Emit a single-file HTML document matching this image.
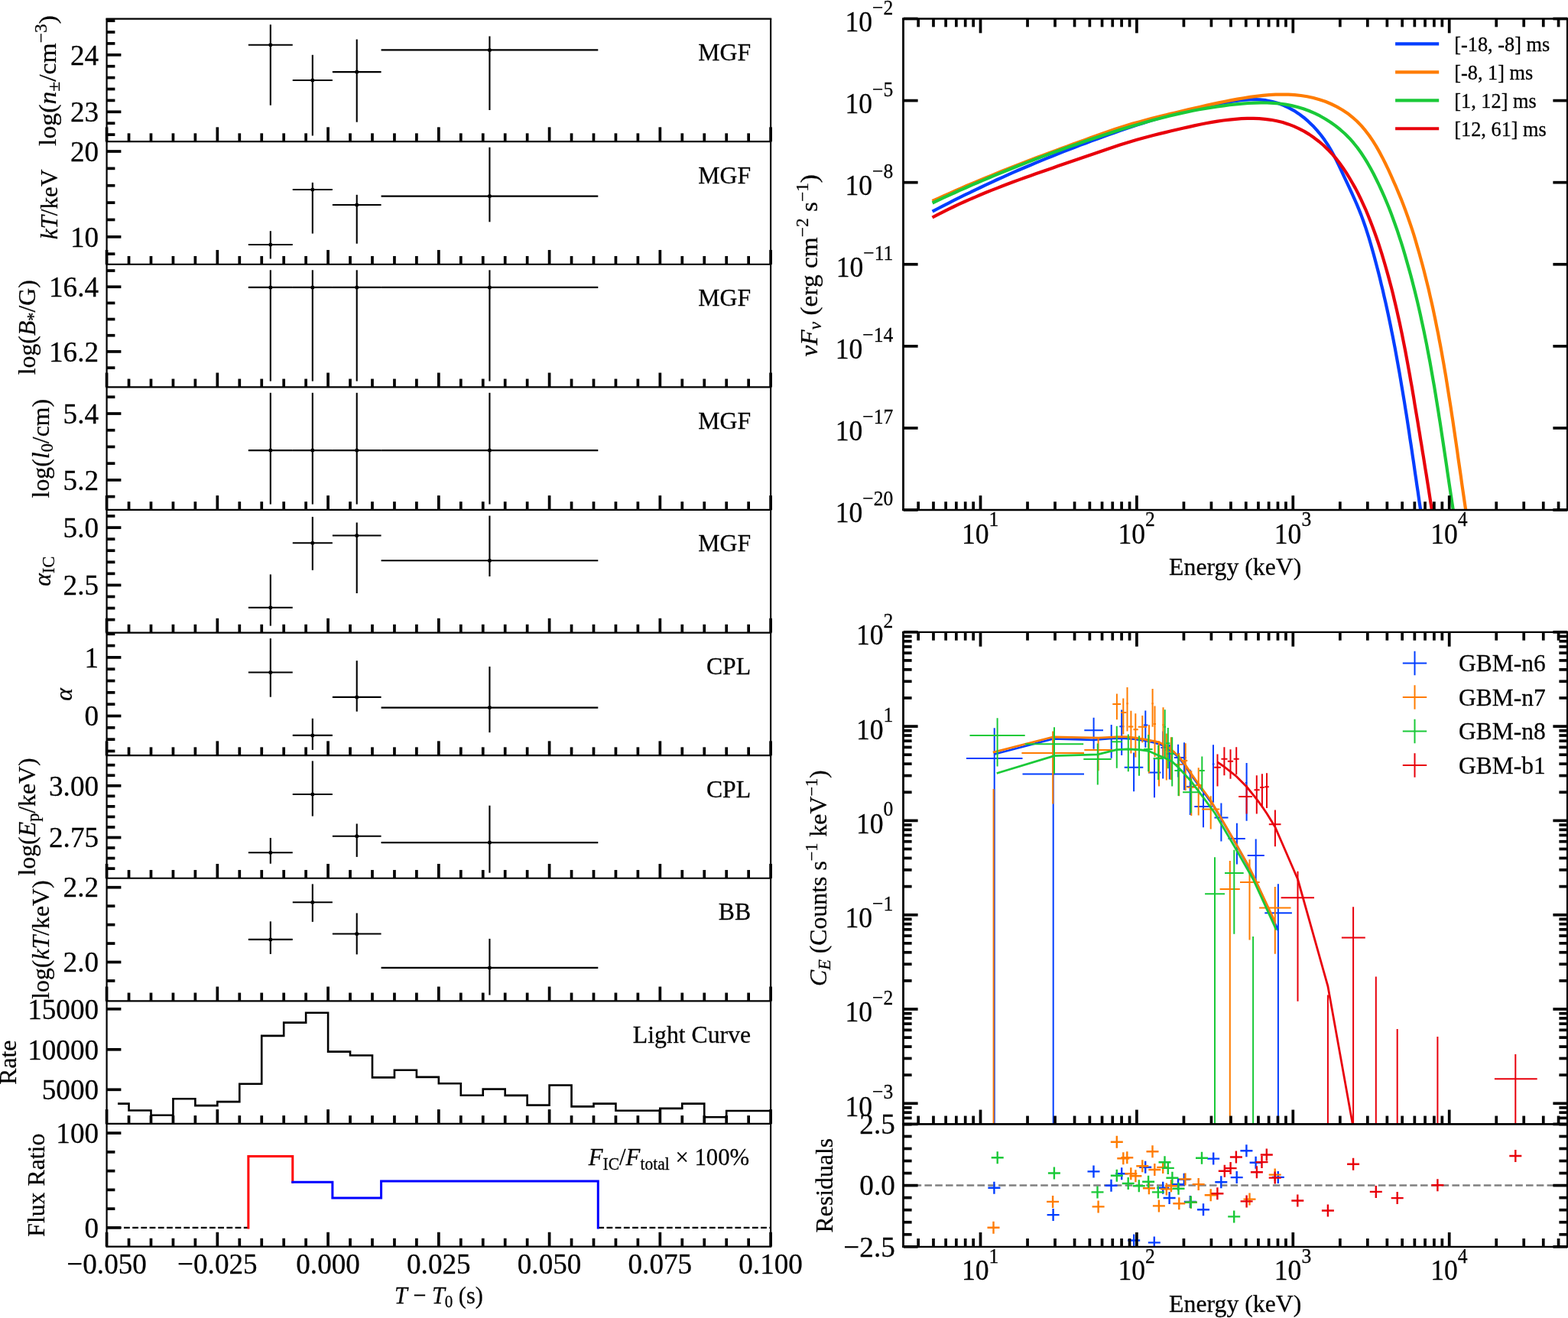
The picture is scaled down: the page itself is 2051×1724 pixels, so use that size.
<!DOCTYPE html>
<html><head><meta charset="utf-8"><title>Figure</title>
<style>html,body{margin:0;padding:0;background:#fff;}svg{display:block;}</style>
</head><body>
<svg width="2051" height="1724" viewBox="0 0 2051 1724" font-family="'Liberation Serif', 'Times New Roman', serif" fill="#000">
<style>text{stroke:#000;stroke-width:0.25px;}</style>
<rect x="0" y="0" width="2051" height="1724" fill="#fff"/>
<line x1="324.88" y1="58.80" x2="382.78" y2="58.80" stroke="#000" stroke-width="2.1" />
<line x1="353.83" y1="32.20" x2="353.83" y2="137.70" stroke="#000" stroke-width="2.1" />
<circle cx="353.83" cy="58.80" r="2.5" fill="#000"/>
<line x1="382.78" y1="105.00" x2="434.89" y2="105.00" stroke="#000" stroke-width="2.1" />
<line x1="408.84" y1="71.80" x2="408.84" y2="177.50" stroke="#000" stroke-width="2.1" />
<circle cx="408.84" cy="105.00" r="2.5" fill="#000"/>
<line x1="434.89" y1="94.10" x2="498.58" y2="94.10" stroke="#000" stroke-width="2.1" />
<line x1="466.74" y1="51.50" x2="466.74" y2="159.70" stroke="#000" stroke-width="2.1" />
<circle cx="466.74" cy="94.10" r="2.5" fill="#000"/>
<line x1="498.58" y1="65.40" x2="782.29" y2="65.40" stroke="#000" stroke-width="2.1" />
<line x1="640.43" y1="47.40" x2="640.43" y2="144.00" stroke="#000" stroke-width="2.1" />
<circle cx="640.43" cy="65.40" r="2.5" fill="#000"/>
<line x1="324.88" y1="320.00" x2="382.78" y2="320.00" stroke="#000" stroke-width="2.1" />
<line x1="353.83" y1="302.20" x2="353.83" y2="338.50" stroke="#000" stroke-width="2.1" />
<circle cx="353.83" cy="320.00" r="2.5" fill="#000"/>
<line x1="382.78" y1="248.00" x2="434.89" y2="248.00" stroke="#000" stroke-width="2.1" />
<line x1="408.84" y1="238.80" x2="408.84" y2="305.50" stroke="#000" stroke-width="2.1" />
<circle cx="408.84" cy="248.00" r="2.5" fill="#000"/>
<line x1="434.89" y1="268.00" x2="498.58" y2="268.00" stroke="#000" stroke-width="2.1" />
<line x1="466.74" y1="254.80" x2="466.74" y2="318.70" stroke="#000" stroke-width="2.1" />
<circle cx="466.74" cy="268.00" r="2.5" fill="#000"/>
<line x1="498.58" y1="256.60" x2="782.29" y2="256.60" stroke="#000" stroke-width="2.1" />
<line x1="640.43" y1="192.70" x2="640.43" y2="290.30" stroke="#000" stroke-width="2.1" />
<circle cx="640.43" cy="256.60" r="2.5" fill="#000"/>
<line x1="324.88" y1="375.90" x2="382.78" y2="375.90" stroke="#000" stroke-width="2.1" />
<line x1="353.83" y1="353.30" x2="353.83" y2="498.60" stroke="#000" stroke-width="2.1" />
<circle cx="353.83" cy="375.90" r="2.5" fill="#000"/>
<line x1="382.78" y1="375.90" x2="434.89" y2="375.90" stroke="#000" stroke-width="2.1" />
<line x1="408.84" y1="353.30" x2="408.84" y2="498.60" stroke="#000" stroke-width="2.1" />
<circle cx="408.84" cy="375.90" r="2.5" fill="#000"/>
<line x1="434.89" y1="375.90" x2="498.58" y2="375.90" stroke="#000" stroke-width="2.1" />
<line x1="466.74" y1="353.30" x2="466.74" y2="498.60" stroke="#000" stroke-width="2.1" />
<circle cx="466.74" cy="375.90" r="2.5" fill="#000"/>
<line x1="498.58" y1="375.90" x2="782.29" y2="375.90" stroke="#000" stroke-width="2.1" />
<line x1="640.43" y1="353.30" x2="640.43" y2="498.60" stroke="#000" stroke-width="2.1" />
<circle cx="640.43" cy="375.90" r="2.5" fill="#000"/>
<line x1="324.88" y1="589.10" x2="382.78" y2="589.10" stroke="#000" stroke-width="2.1" />
<line x1="353.83" y1="513.80" x2="353.83" y2="659.60" stroke="#000" stroke-width="2.1" />
<circle cx="353.83" cy="589.10" r="2.5" fill="#000"/>
<line x1="382.78" y1="589.10" x2="434.89" y2="589.10" stroke="#000" stroke-width="2.1" />
<line x1="408.84" y1="513.80" x2="408.84" y2="659.60" stroke="#000" stroke-width="2.1" />
<circle cx="408.84" cy="589.10" r="2.5" fill="#000"/>
<line x1="434.89" y1="589.10" x2="498.58" y2="589.10" stroke="#000" stroke-width="2.1" />
<line x1="466.74" y1="513.80" x2="466.74" y2="659.60" stroke="#000" stroke-width="2.1" />
<circle cx="466.74" cy="589.10" r="2.5" fill="#000"/>
<line x1="498.58" y1="589.10" x2="782.29" y2="589.10" stroke="#000" stroke-width="2.1" />
<line x1="640.43" y1="513.80" x2="640.43" y2="659.60" stroke="#000" stroke-width="2.1" />
<circle cx="640.43" cy="589.10" r="2.5" fill="#000"/>
<line x1="324.88" y1="794.80" x2="382.78" y2="794.80" stroke="#000" stroke-width="2.1" />
<line x1="353.83" y1="751.40" x2="353.83" y2="818.60" stroke="#000" stroke-width="2.1" />
<circle cx="353.83" cy="794.80" r="2.5" fill="#000"/>
<line x1="382.78" y1="710.30" x2="434.89" y2="710.30" stroke="#000" stroke-width="2.1" />
<line x1="408.84" y1="676.10" x2="408.84" y2="745.80" stroke="#000" stroke-width="2.1" />
<circle cx="408.84" cy="710.30" r="2.5" fill="#000"/>
<line x1="434.89" y1="700.50" x2="498.58" y2="700.50" stroke="#000" stroke-width="2.1" />
<line x1="466.74" y1="683.50" x2="466.74" y2="776.00" stroke="#000" stroke-width="2.1" />
<circle cx="466.74" cy="700.50" r="2.5" fill="#000"/>
<line x1="498.58" y1="733.20" x2="782.29" y2="733.20" stroke="#000" stroke-width="2.1" />
<line x1="640.43" y1="674.60" x2="640.43" y2="754.00" stroke="#000" stroke-width="2.1" />
<circle cx="640.43" cy="733.20" r="2.5" fill="#000"/>
<line x1="324.88" y1="879.50" x2="382.78" y2="879.50" stroke="#000" stroke-width="2.1" />
<line x1="353.83" y1="835.10" x2="353.83" y2="911.70" stroke="#000" stroke-width="2.1" />
<circle cx="353.83" cy="879.50" r="2.5" fill="#000"/>
<line x1="382.78" y1="961.90" x2="434.89" y2="961.90" stroke="#000" stroke-width="2.1" />
<line x1="408.84" y1="939.80" x2="408.84" y2="980.90" stroke="#000" stroke-width="2.1" />
<circle cx="408.84" cy="961.90" r="2.5" fill="#000"/>
<line x1="434.89" y1="911.90" x2="498.58" y2="911.90" stroke="#000" stroke-width="2.1" />
<line x1="466.74" y1="864.20" x2="466.74" y2="930.70" stroke="#000" stroke-width="2.1" />
<circle cx="466.74" cy="911.90" r="2.5" fill="#000"/>
<line x1="498.58" y1="925.60" x2="782.29" y2="925.60" stroke="#000" stroke-width="2.1" />
<line x1="640.43" y1="871.90" x2="640.43" y2="958.10" stroke="#000" stroke-width="2.1" />
<circle cx="640.43" cy="925.60" r="2.5" fill="#000"/>
<line x1="324.88" y1="1115.30" x2="382.78" y2="1115.30" stroke="#000" stroke-width="2.1" />
<line x1="353.83" y1="1096.00" x2="353.83" y2="1129.70" stroke="#000" stroke-width="2.1" />
<circle cx="353.83" cy="1115.30" r="2.5" fill="#000"/>
<line x1="382.78" y1="1039.00" x2="434.89" y2="1039.00" stroke="#000" stroke-width="2.1" />
<line x1="408.84" y1="995.40" x2="408.84" y2="1067.60" stroke="#000" stroke-width="2.1" />
<circle cx="408.84" cy="1039.00" r="2.5" fill="#000"/>
<line x1="434.89" y1="1093.70" x2="498.58" y2="1093.70" stroke="#000" stroke-width="2.1" />
<line x1="466.74" y1="1077.50" x2="466.74" y2="1120.90" stroke="#000" stroke-width="2.1" />
<circle cx="466.74" cy="1093.70" r="2.5" fill="#000"/>
<line x1="498.58" y1="1102.10" x2="782.29" y2="1102.10" stroke="#000" stroke-width="2.1" />
<line x1="640.43" y1="1053.70" x2="640.43" y2="1141.70" stroke="#000" stroke-width="2.1" />
<circle cx="640.43" cy="1102.10" r="2.5" fill="#000"/>
<line x1="324.88" y1="1228.90" x2="382.78" y2="1228.90" stroke="#000" stroke-width="2.1" />
<line x1="353.83" y1="1205.30" x2="353.83" y2="1247.90" stroke="#000" stroke-width="2.1" />
<circle cx="353.83" cy="1228.90" r="2.5" fill="#000"/>
<line x1="382.78" y1="1180.20" x2="434.89" y2="1180.20" stroke="#000" stroke-width="2.1" />
<line x1="408.84" y1="1156.40" x2="408.84" y2="1205.80" stroke="#000" stroke-width="2.1" />
<circle cx="408.84" cy="1180.20" r="2.5" fill="#000"/>
<line x1="434.89" y1="1221.50" x2="498.58" y2="1221.50" stroke="#000" stroke-width="2.1" />
<line x1="466.74" y1="1194.40" x2="466.74" y2="1248.40" stroke="#000" stroke-width="2.1" />
<circle cx="466.74" cy="1221.50" r="2.5" fill="#000"/>
<line x1="498.58" y1="1265.90" x2="782.29" y2="1265.90" stroke="#000" stroke-width="2.1" />
<line x1="640.43" y1="1227.90" x2="640.43" y2="1301.60" stroke="#000" stroke-width="2.1" />
<circle cx="640.43" cy="1265.90" r="2.5" fill="#000"/>
<path d="M154.08 1443.60 H168.55 V1452.50 H197.50 V1458.80 H226.45 V1437.30 H255.40 V1446.10 H284.35 V1441.10 H313.30 V1417.70 H342.25 V1354.90 H371.20 V1337.60 H400.15 V1324.70 H429.10 V1375.60 H458.05 V1380.50 H487.00 V1409.40 H515.95 V1399.70 H544.90 V1408.90 H573.85 V1417.20 H602.80 V1432.70 H631.75 V1424.60 H660.70 V1432.90 H689.65 V1445.60 H718.60 V1419.50 H747.55 V1447.40 H776.50 V1443.60 H805.45 V1452.70 H834.40 V1452.70 H863.35 V1449.90 H892.30 V1443.60 H921.25 V1461.30 H950.20 V1453.00 H979.15 V1453.00 H1008.10" fill="none" stroke="#000" stroke-width="2.6" stroke-linejoin="miter"/>
<line x1="139.60" y1="1605.90" x2="324.88" y2="1605.90" stroke="#000" stroke-width="2.1" stroke-dasharray="7.8 3.4"/>
<line x1="782.29" y1="1605.90" x2="1008.10" y2="1605.90" stroke="#000" stroke-width="2.1" stroke-dasharray="7.8 3.4"/>
<path d="M324.88 1605.9 V1512.6 H382.78 V1546.3" fill="none" stroke="#ff0000" stroke-width="3.0" stroke-linecap="square"/>
<path d="M382.78 1546.3 H434.89 V1567.1 H498.58 V1545.0 H782.29 V1605.9" fill="none" stroke="#0000ff" stroke-width="3.0" stroke-linecap="square"/>
<line x1="139.60" y1="185.15" x2="139.60" y2="166.35" stroke="#000" stroke-width="3.7" />
<line x1="168.55" y1="185.15" x2="168.55" y2="174.35" stroke="#000" stroke-width="3.7" />
<line x1="197.50" y1="185.15" x2="197.50" y2="174.35" stroke="#000" stroke-width="3.7" />
<line x1="226.45" y1="185.15" x2="226.45" y2="174.35" stroke="#000" stroke-width="3.7" />
<line x1="255.40" y1="185.15" x2="255.40" y2="174.35" stroke="#000" stroke-width="3.7" />
<line x1="284.35" y1="185.15" x2="284.35" y2="166.35" stroke="#000" stroke-width="3.7" />
<line x1="313.30" y1="185.15" x2="313.30" y2="174.35" stroke="#000" stroke-width="3.7" />
<line x1="342.25" y1="185.15" x2="342.25" y2="174.35" stroke="#000" stroke-width="3.7" />
<line x1="371.20" y1="185.15" x2="371.20" y2="174.35" stroke="#000" stroke-width="3.7" />
<line x1="400.15" y1="185.15" x2="400.15" y2="174.35" stroke="#000" stroke-width="3.7" />
<line x1="429.10" y1="185.15" x2="429.10" y2="166.35" stroke="#000" stroke-width="3.7" />
<line x1="458.05" y1="185.15" x2="458.05" y2="174.35" stroke="#000" stroke-width="3.7" />
<line x1="487.00" y1="185.15" x2="487.00" y2="174.35" stroke="#000" stroke-width="3.7" />
<line x1="515.95" y1="185.15" x2="515.95" y2="174.35" stroke="#000" stroke-width="3.7" />
<line x1="544.90" y1="185.15" x2="544.90" y2="174.35" stroke="#000" stroke-width="3.7" />
<line x1="573.85" y1="185.15" x2="573.85" y2="166.35" stroke="#000" stroke-width="3.7" />
<line x1="602.80" y1="185.15" x2="602.80" y2="174.35" stroke="#000" stroke-width="3.7" />
<line x1="631.75" y1="185.15" x2="631.75" y2="174.35" stroke="#000" stroke-width="3.7" />
<line x1="660.70" y1="185.15" x2="660.70" y2="174.35" stroke="#000" stroke-width="3.7" />
<line x1="689.65" y1="185.15" x2="689.65" y2="174.35" stroke="#000" stroke-width="3.7" />
<line x1="718.60" y1="185.15" x2="718.60" y2="166.35" stroke="#000" stroke-width="3.7" />
<line x1="747.55" y1="185.15" x2="747.55" y2="174.35" stroke="#000" stroke-width="3.7" />
<line x1="776.50" y1="185.15" x2="776.50" y2="174.35" stroke="#000" stroke-width="3.7" />
<line x1="805.45" y1="185.15" x2="805.45" y2="174.35" stroke="#000" stroke-width="3.7" />
<line x1="834.40" y1="185.15" x2="834.40" y2="174.35" stroke="#000" stroke-width="3.7" />
<line x1="863.35" y1="185.15" x2="863.35" y2="166.35" stroke="#000" stroke-width="3.7" />
<line x1="892.30" y1="185.15" x2="892.30" y2="174.35" stroke="#000" stroke-width="3.7" />
<line x1="921.25" y1="185.15" x2="921.25" y2="174.35" stroke="#000" stroke-width="3.7" />
<line x1="950.20" y1="185.15" x2="950.20" y2="174.35" stroke="#000" stroke-width="3.7" />
<line x1="979.15" y1="185.15" x2="979.15" y2="174.35" stroke="#000" stroke-width="3.7" />
<line x1="1008.10" y1="185.15" x2="1008.10" y2="166.35" stroke="#000" stroke-width="3.7" />
<line x1="139.60" y1="71.80" x2="158.40" y2="71.80" stroke="#000" stroke-width="3.7" />
<text transform="translate(129.10 84.50) scale(1 1.035)" font-size="37.2" text-anchor="end" >24</text>
<line x1="139.60" y1="146.30" x2="158.40" y2="146.30" stroke="#000" stroke-width="3.7" />
<text transform="translate(129.10 159.00) scale(1 1.035)" font-size="37.2" text-anchor="end" >23</text>
<line x1="139.60" y1="27.10" x2="150.40" y2="27.10" stroke="#000" stroke-width="3.7" />
<line x1="139.60" y1="42.00" x2="150.40" y2="42.00" stroke="#000" stroke-width="3.7" />
<line x1="139.60" y1="56.90" x2="150.40" y2="56.90" stroke="#000" stroke-width="3.7" />
<line x1="139.60" y1="86.70" x2="150.40" y2="86.70" stroke="#000" stroke-width="3.7" />
<line x1="139.60" y1="101.60" x2="150.40" y2="101.60" stroke="#000" stroke-width="3.7" />
<line x1="139.60" y1="116.50" x2="150.40" y2="116.50" stroke="#000" stroke-width="3.7" />
<line x1="139.60" y1="131.40" x2="150.40" y2="131.40" stroke="#000" stroke-width="3.7" />
<line x1="139.60" y1="161.20" x2="150.40" y2="161.20" stroke="#000" stroke-width="3.7" />
<line x1="139.60" y1="176.10" x2="150.40" y2="176.10" stroke="#000" stroke-width="3.7" />
<text transform="translate(72.60 105.45) rotate(-90) scale(1.06 1.0)" font-size="31.8" text-anchor="middle">log(<tspan font-style="italic">n</tspan><tspan font-size="22.26" dy="5.09">±</tspan><tspan font-size="22.26" dy="-5.09">&#8203;</tspan>/cm<tspan font-size="22.26" dy="-12.08">−3</tspan><tspan font-size="22.26" dy="12.08">&#8203;</tspan>)</text>
<text transform="translate(982.20 79.05) scale(1 1.015)" font-size="31.8" text-anchor="end" >MGF</text>
<line x1="139.60" y1="345.75" x2="139.60" y2="326.95" stroke="#000" stroke-width="3.7" />
<line x1="168.55" y1="345.75" x2="168.55" y2="334.95" stroke="#000" stroke-width="3.7" />
<line x1="197.50" y1="345.75" x2="197.50" y2="334.95" stroke="#000" stroke-width="3.7" />
<line x1="226.45" y1="345.75" x2="226.45" y2="334.95" stroke="#000" stroke-width="3.7" />
<line x1="255.40" y1="345.75" x2="255.40" y2="334.95" stroke="#000" stroke-width="3.7" />
<line x1="284.35" y1="345.75" x2="284.35" y2="326.95" stroke="#000" stroke-width="3.7" />
<line x1="313.30" y1="345.75" x2="313.30" y2="334.95" stroke="#000" stroke-width="3.7" />
<line x1="342.25" y1="345.75" x2="342.25" y2="334.95" stroke="#000" stroke-width="3.7" />
<line x1="371.20" y1="345.75" x2="371.20" y2="334.95" stroke="#000" stroke-width="3.7" />
<line x1="400.15" y1="345.75" x2="400.15" y2="334.95" stroke="#000" stroke-width="3.7" />
<line x1="429.10" y1="345.75" x2="429.10" y2="326.95" stroke="#000" stroke-width="3.7" />
<line x1="458.05" y1="345.75" x2="458.05" y2="334.95" stroke="#000" stroke-width="3.7" />
<line x1="487.00" y1="345.75" x2="487.00" y2="334.95" stroke="#000" stroke-width="3.7" />
<line x1="515.95" y1="345.75" x2="515.95" y2="334.95" stroke="#000" stroke-width="3.7" />
<line x1="544.90" y1="345.75" x2="544.90" y2="334.95" stroke="#000" stroke-width="3.7" />
<line x1="573.85" y1="345.75" x2="573.85" y2="326.95" stroke="#000" stroke-width="3.7" />
<line x1="602.80" y1="345.75" x2="602.80" y2="334.95" stroke="#000" stroke-width="3.7" />
<line x1="631.75" y1="345.75" x2="631.75" y2="334.95" stroke="#000" stroke-width="3.7" />
<line x1="660.70" y1="345.75" x2="660.70" y2="334.95" stroke="#000" stroke-width="3.7" />
<line x1="689.65" y1="345.75" x2="689.65" y2="334.95" stroke="#000" stroke-width="3.7" />
<line x1="718.60" y1="345.75" x2="718.60" y2="326.95" stroke="#000" stroke-width="3.7" />
<line x1="747.55" y1="345.75" x2="747.55" y2="334.95" stroke="#000" stroke-width="3.7" />
<line x1="776.50" y1="345.75" x2="776.50" y2="334.95" stroke="#000" stroke-width="3.7" />
<line x1="805.45" y1="345.75" x2="805.45" y2="334.95" stroke="#000" stroke-width="3.7" />
<line x1="834.40" y1="345.75" x2="834.40" y2="334.95" stroke="#000" stroke-width="3.7" />
<line x1="863.35" y1="345.75" x2="863.35" y2="326.95" stroke="#000" stroke-width="3.7" />
<line x1="892.30" y1="345.75" x2="892.30" y2="334.95" stroke="#000" stroke-width="3.7" />
<line x1="921.25" y1="345.75" x2="921.25" y2="334.95" stroke="#000" stroke-width="3.7" />
<line x1="950.20" y1="345.75" x2="950.20" y2="334.95" stroke="#000" stroke-width="3.7" />
<line x1="979.15" y1="345.75" x2="979.15" y2="334.95" stroke="#000" stroke-width="3.7" />
<line x1="1008.10" y1="345.75" x2="1008.10" y2="326.95" stroke="#000" stroke-width="3.7" />
<line x1="139.60" y1="198.00" x2="158.40" y2="198.00" stroke="#000" stroke-width="3.7" />
<text transform="translate(129.10 210.70) scale(1 1.035)" font-size="37.2" text-anchor="end" >20</text>
<line x1="139.60" y1="309.80" x2="158.40" y2="309.80" stroke="#000" stroke-width="3.7" />
<text transform="translate(129.10 322.50) scale(1 1.035)" font-size="37.2" text-anchor="end" >10</text>
<line x1="139.60" y1="220.36" x2="150.40" y2="220.36" stroke="#000" stroke-width="3.7" />
<line x1="139.60" y1="242.72" x2="150.40" y2="242.72" stroke="#000" stroke-width="3.7" />
<line x1="139.60" y1="265.08" x2="150.40" y2="265.08" stroke="#000" stroke-width="3.7" />
<line x1="139.60" y1="287.44" x2="150.40" y2="287.44" stroke="#000" stroke-width="3.7" />
<line x1="139.60" y1="332.16" x2="150.40" y2="332.16" stroke="#000" stroke-width="3.7" />
<text transform="translate(74.60 267.45) rotate(-90) scale(0.98 1.0)" font-size="31.8" text-anchor="middle"><tspan font-style="italic">kT</tspan>/keV</text>
<text transform="translate(982.20 239.65) scale(1 1.015)" font-size="31.8" text-anchor="end" >MGF</text>
<line x1="139.60" y1="506.35" x2="139.60" y2="487.55" stroke="#000" stroke-width="3.7" />
<line x1="168.55" y1="506.35" x2="168.55" y2="495.55" stroke="#000" stroke-width="3.7" />
<line x1="197.50" y1="506.35" x2="197.50" y2="495.55" stroke="#000" stroke-width="3.7" />
<line x1="226.45" y1="506.35" x2="226.45" y2="495.55" stroke="#000" stroke-width="3.7" />
<line x1="255.40" y1="506.35" x2="255.40" y2="495.55" stroke="#000" stroke-width="3.7" />
<line x1="284.35" y1="506.35" x2="284.35" y2="487.55" stroke="#000" stroke-width="3.7" />
<line x1="313.30" y1="506.35" x2="313.30" y2="495.55" stroke="#000" stroke-width="3.7" />
<line x1="342.25" y1="506.35" x2="342.25" y2="495.55" stroke="#000" stroke-width="3.7" />
<line x1="371.20" y1="506.35" x2="371.20" y2="495.55" stroke="#000" stroke-width="3.7" />
<line x1="400.15" y1="506.35" x2="400.15" y2="495.55" stroke="#000" stroke-width="3.7" />
<line x1="429.10" y1="506.35" x2="429.10" y2="487.55" stroke="#000" stroke-width="3.7" />
<line x1="458.05" y1="506.35" x2="458.05" y2="495.55" stroke="#000" stroke-width="3.7" />
<line x1="487.00" y1="506.35" x2="487.00" y2="495.55" stroke="#000" stroke-width="3.7" />
<line x1="515.95" y1="506.35" x2="515.95" y2="495.55" stroke="#000" stroke-width="3.7" />
<line x1="544.90" y1="506.35" x2="544.90" y2="495.55" stroke="#000" stroke-width="3.7" />
<line x1="573.85" y1="506.35" x2="573.85" y2="487.55" stroke="#000" stroke-width="3.7" />
<line x1="602.80" y1="506.35" x2="602.80" y2="495.55" stroke="#000" stroke-width="3.7" />
<line x1="631.75" y1="506.35" x2="631.75" y2="495.55" stroke="#000" stroke-width="3.7" />
<line x1="660.70" y1="506.35" x2="660.70" y2="495.55" stroke="#000" stroke-width="3.7" />
<line x1="689.65" y1="506.35" x2="689.65" y2="495.55" stroke="#000" stroke-width="3.7" />
<line x1="718.60" y1="506.35" x2="718.60" y2="487.55" stroke="#000" stroke-width="3.7" />
<line x1="747.55" y1="506.35" x2="747.55" y2="495.55" stroke="#000" stroke-width="3.7" />
<line x1="776.50" y1="506.35" x2="776.50" y2="495.55" stroke="#000" stroke-width="3.7" />
<line x1="805.45" y1="506.35" x2="805.45" y2="495.55" stroke="#000" stroke-width="3.7" />
<line x1="834.40" y1="506.35" x2="834.40" y2="495.55" stroke="#000" stroke-width="3.7" />
<line x1="863.35" y1="506.35" x2="863.35" y2="487.55" stroke="#000" stroke-width="3.7" />
<line x1="892.30" y1="506.35" x2="892.30" y2="495.55" stroke="#000" stroke-width="3.7" />
<line x1="921.25" y1="506.35" x2="921.25" y2="495.55" stroke="#000" stroke-width="3.7" />
<line x1="950.20" y1="506.35" x2="950.20" y2="495.55" stroke="#000" stroke-width="3.7" />
<line x1="979.15" y1="506.35" x2="979.15" y2="495.55" stroke="#000" stroke-width="3.7" />
<line x1="1008.10" y1="506.35" x2="1008.10" y2="487.55" stroke="#000" stroke-width="3.7" />
<line x1="139.60" y1="375.20" x2="158.40" y2="375.20" stroke="#000" stroke-width="3.7" />
<text transform="translate(129.10 387.90) scale(1 1.035)" font-size="37.2" text-anchor="end" >16.4</text>
<line x1="139.60" y1="459.90" x2="158.40" y2="459.90" stroke="#000" stroke-width="3.7" />
<text transform="translate(129.10 472.60) scale(1 1.035)" font-size="37.2" text-anchor="end" >16.2</text>
<line x1="139.60" y1="354.02" x2="150.40" y2="354.02" stroke="#000" stroke-width="3.7" />
<line x1="139.60" y1="396.38" x2="150.40" y2="396.38" stroke="#000" stroke-width="3.7" />
<line x1="139.60" y1="417.56" x2="150.40" y2="417.56" stroke="#000" stroke-width="3.7" />
<line x1="139.60" y1="438.74" x2="150.40" y2="438.74" stroke="#000" stroke-width="3.7" />
<line x1="139.60" y1="481.10" x2="150.40" y2="481.10" stroke="#000" stroke-width="3.7" />
<text transform="translate(45.50 428.25) rotate(-90) scale(1 1.0)" font-size="31.8" text-anchor="middle">log(<tspan font-style="italic">B</tspan><tspan font-size="22.26" dy="5.09">*</tspan><tspan font-size="22.26" dy="-5.09">&#8203;</tspan>/G)</text>
<text transform="translate(982.20 400.25) scale(1 1.015)" font-size="31.8" text-anchor="end" >MGF</text>
<line x1="139.60" y1="666.95" x2="139.60" y2="648.15" stroke="#000" stroke-width="3.7" />
<line x1="168.55" y1="666.95" x2="168.55" y2="656.15" stroke="#000" stroke-width="3.7" />
<line x1="197.50" y1="666.95" x2="197.50" y2="656.15" stroke="#000" stroke-width="3.7" />
<line x1="226.45" y1="666.95" x2="226.45" y2="656.15" stroke="#000" stroke-width="3.7" />
<line x1="255.40" y1="666.95" x2="255.40" y2="656.15" stroke="#000" stroke-width="3.7" />
<line x1="284.35" y1="666.95" x2="284.35" y2="648.15" stroke="#000" stroke-width="3.7" />
<line x1="313.30" y1="666.95" x2="313.30" y2="656.15" stroke="#000" stroke-width="3.7" />
<line x1="342.25" y1="666.95" x2="342.25" y2="656.15" stroke="#000" stroke-width="3.7" />
<line x1="371.20" y1="666.95" x2="371.20" y2="656.15" stroke="#000" stroke-width="3.7" />
<line x1="400.15" y1="666.95" x2="400.15" y2="656.15" stroke="#000" stroke-width="3.7" />
<line x1="429.10" y1="666.95" x2="429.10" y2="648.15" stroke="#000" stroke-width="3.7" />
<line x1="458.05" y1="666.95" x2="458.05" y2="656.15" stroke="#000" stroke-width="3.7" />
<line x1="487.00" y1="666.95" x2="487.00" y2="656.15" stroke="#000" stroke-width="3.7" />
<line x1="515.95" y1="666.95" x2="515.95" y2="656.15" stroke="#000" stroke-width="3.7" />
<line x1="544.90" y1="666.95" x2="544.90" y2="656.15" stroke="#000" stroke-width="3.7" />
<line x1="573.85" y1="666.95" x2="573.85" y2="648.15" stroke="#000" stroke-width="3.7" />
<line x1="602.80" y1="666.95" x2="602.80" y2="656.15" stroke="#000" stroke-width="3.7" />
<line x1="631.75" y1="666.95" x2="631.75" y2="656.15" stroke="#000" stroke-width="3.7" />
<line x1="660.70" y1="666.95" x2="660.70" y2="656.15" stroke="#000" stroke-width="3.7" />
<line x1="689.65" y1="666.95" x2="689.65" y2="656.15" stroke="#000" stroke-width="3.7" />
<line x1="718.60" y1="666.95" x2="718.60" y2="648.15" stroke="#000" stroke-width="3.7" />
<line x1="747.55" y1="666.95" x2="747.55" y2="656.15" stroke="#000" stroke-width="3.7" />
<line x1="776.50" y1="666.95" x2="776.50" y2="656.15" stroke="#000" stroke-width="3.7" />
<line x1="805.45" y1="666.95" x2="805.45" y2="656.15" stroke="#000" stroke-width="3.7" />
<line x1="834.40" y1="666.95" x2="834.40" y2="656.15" stroke="#000" stroke-width="3.7" />
<line x1="863.35" y1="666.95" x2="863.35" y2="648.15" stroke="#000" stroke-width="3.7" />
<line x1="892.30" y1="666.95" x2="892.30" y2="656.15" stroke="#000" stroke-width="3.7" />
<line x1="921.25" y1="666.95" x2="921.25" y2="656.15" stroke="#000" stroke-width="3.7" />
<line x1="950.20" y1="666.95" x2="950.20" y2="656.15" stroke="#000" stroke-width="3.7" />
<line x1="979.15" y1="666.95" x2="979.15" y2="656.15" stroke="#000" stroke-width="3.7" />
<line x1="1008.10" y1="666.95" x2="1008.10" y2="648.15" stroke="#000" stroke-width="3.7" />
<line x1="139.60" y1="541.00" x2="158.40" y2="541.00" stroke="#000" stroke-width="3.7" />
<text transform="translate(129.10 553.70) scale(1 1.035)" font-size="37.2" text-anchor="end" >5.4</text>
<line x1="139.60" y1="627.90" x2="158.40" y2="627.90" stroke="#000" stroke-width="3.7" />
<text transform="translate(129.10 640.60) scale(1 1.035)" font-size="37.2" text-anchor="end" >5.2</text>
<line x1="139.60" y1="519.28" x2="150.40" y2="519.28" stroke="#000" stroke-width="3.7" />
<line x1="139.60" y1="562.72" x2="150.40" y2="562.72" stroke="#000" stroke-width="3.7" />
<line x1="139.60" y1="584.44" x2="150.40" y2="584.44" stroke="#000" stroke-width="3.7" />
<line x1="139.60" y1="606.16" x2="150.40" y2="606.16" stroke="#000" stroke-width="3.7" />
<line x1="139.60" y1="649.60" x2="150.40" y2="649.60" stroke="#000" stroke-width="3.7" />
<text transform="translate(63.50 586.65) rotate(-90) scale(1 1.0)" font-size="31.8" text-anchor="middle">log(<tspan font-style="italic">l</tspan><tspan font-size="22.26" dy="5.09">0</tspan><tspan font-size="22.26" dy="-5.09">&#8203;</tspan>/cm)</text>
<text transform="translate(982.20 560.85) scale(1 1.015)" font-size="31.8" text-anchor="end" >MGF</text>
<line x1="139.60" y1="827.55" x2="139.60" y2="808.75" stroke="#000" stroke-width="3.7" />
<line x1="168.55" y1="827.55" x2="168.55" y2="816.75" stroke="#000" stroke-width="3.7" />
<line x1="197.50" y1="827.55" x2="197.50" y2="816.75" stroke="#000" stroke-width="3.7" />
<line x1="226.45" y1="827.55" x2="226.45" y2="816.75" stroke="#000" stroke-width="3.7" />
<line x1="255.40" y1="827.55" x2="255.40" y2="816.75" stroke="#000" stroke-width="3.7" />
<line x1="284.35" y1="827.55" x2="284.35" y2="808.75" stroke="#000" stroke-width="3.7" />
<line x1="313.30" y1="827.55" x2="313.30" y2="816.75" stroke="#000" stroke-width="3.7" />
<line x1="342.25" y1="827.55" x2="342.25" y2="816.75" stroke="#000" stroke-width="3.7" />
<line x1="371.20" y1="827.55" x2="371.20" y2="816.75" stroke="#000" stroke-width="3.7" />
<line x1="400.15" y1="827.55" x2="400.15" y2="816.75" stroke="#000" stroke-width="3.7" />
<line x1="429.10" y1="827.55" x2="429.10" y2="808.75" stroke="#000" stroke-width="3.7" />
<line x1="458.05" y1="827.55" x2="458.05" y2="816.75" stroke="#000" stroke-width="3.7" />
<line x1="487.00" y1="827.55" x2="487.00" y2="816.75" stroke="#000" stroke-width="3.7" />
<line x1="515.95" y1="827.55" x2="515.95" y2="816.75" stroke="#000" stroke-width="3.7" />
<line x1="544.90" y1="827.55" x2="544.90" y2="816.75" stroke="#000" stroke-width="3.7" />
<line x1="573.85" y1="827.55" x2="573.85" y2="808.75" stroke="#000" stroke-width="3.7" />
<line x1="602.80" y1="827.55" x2="602.80" y2="816.75" stroke="#000" stroke-width="3.7" />
<line x1="631.75" y1="827.55" x2="631.75" y2="816.75" stroke="#000" stroke-width="3.7" />
<line x1="660.70" y1="827.55" x2="660.70" y2="816.75" stroke="#000" stroke-width="3.7" />
<line x1="689.65" y1="827.55" x2="689.65" y2="816.75" stroke="#000" stroke-width="3.7" />
<line x1="718.60" y1="827.55" x2="718.60" y2="808.75" stroke="#000" stroke-width="3.7" />
<line x1="747.55" y1="827.55" x2="747.55" y2="816.75" stroke="#000" stroke-width="3.7" />
<line x1="776.50" y1="827.55" x2="776.50" y2="816.75" stroke="#000" stroke-width="3.7" />
<line x1="805.45" y1="827.55" x2="805.45" y2="816.75" stroke="#000" stroke-width="3.7" />
<line x1="834.40" y1="827.55" x2="834.40" y2="816.75" stroke="#000" stroke-width="3.7" />
<line x1="863.35" y1="827.55" x2="863.35" y2="808.75" stroke="#000" stroke-width="3.7" />
<line x1="892.30" y1="827.55" x2="892.30" y2="816.75" stroke="#000" stroke-width="3.7" />
<line x1="921.25" y1="827.55" x2="921.25" y2="816.75" stroke="#000" stroke-width="3.7" />
<line x1="950.20" y1="827.55" x2="950.20" y2="816.75" stroke="#000" stroke-width="3.7" />
<line x1="979.15" y1="827.55" x2="979.15" y2="816.75" stroke="#000" stroke-width="3.7" />
<line x1="1008.10" y1="827.55" x2="1008.10" y2="808.75" stroke="#000" stroke-width="3.7" />
<line x1="139.60" y1="690.10" x2="158.40" y2="690.10" stroke="#000" stroke-width="3.7" />
<text transform="translate(129.10 702.80) scale(1 1.035)" font-size="37.2" text-anchor="end" >5.0</text>
<line x1="139.60" y1="765.40" x2="158.40" y2="765.40" stroke="#000" stroke-width="3.7" />
<text transform="translate(129.10 778.10) scale(1 1.035)" font-size="37.2" text-anchor="end" >2.5</text>
<line x1="139.60" y1="675.04" x2="150.40" y2="675.04" stroke="#000" stroke-width="3.7" />
<line x1="139.60" y1="705.16" x2="150.40" y2="705.16" stroke="#000" stroke-width="3.7" />
<line x1="139.60" y1="720.22" x2="150.40" y2="720.22" stroke="#000" stroke-width="3.7" />
<line x1="139.60" y1="735.28" x2="150.40" y2="735.28" stroke="#000" stroke-width="3.7" />
<line x1="139.60" y1="750.34" x2="150.40" y2="750.34" stroke="#000" stroke-width="3.7" />
<line x1="139.60" y1="780.46" x2="150.40" y2="780.46" stroke="#000" stroke-width="3.7" />
<line x1="139.60" y1="795.52" x2="150.40" y2="795.52" stroke="#000" stroke-width="3.7" />
<line x1="139.60" y1="810.58" x2="150.40" y2="810.58" stroke="#000" stroke-width="3.7" />
<text transform="translate(66.00 747.25) rotate(-90) scale(1 1.0)" font-size="31.8" text-anchor="middle"><tspan font-style="italic">α</tspan><tspan font-size="22.26" dy="5.09">IC</tspan><tspan font-size="22.26" dy="-5.09">&#8203;</tspan></text>
<text transform="translate(982.20 721.45) scale(1 1.015)" font-size="31.8" text-anchor="end" >MGF</text>
<line x1="139.60" y1="988.15" x2="139.60" y2="969.35" stroke="#000" stroke-width="3.7" />
<line x1="168.55" y1="988.15" x2="168.55" y2="977.35" stroke="#000" stroke-width="3.7" />
<line x1="197.50" y1="988.15" x2="197.50" y2="977.35" stroke="#000" stroke-width="3.7" />
<line x1="226.45" y1="988.15" x2="226.45" y2="977.35" stroke="#000" stroke-width="3.7" />
<line x1="255.40" y1="988.15" x2="255.40" y2="977.35" stroke="#000" stroke-width="3.7" />
<line x1="284.35" y1="988.15" x2="284.35" y2="969.35" stroke="#000" stroke-width="3.7" />
<line x1="313.30" y1="988.15" x2="313.30" y2="977.35" stroke="#000" stroke-width="3.7" />
<line x1="342.25" y1="988.15" x2="342.25" y2="977.35" stroke="#000" stroke-width="3.7" />
<line x1="371.20" y1="988.15" x2="371.20" y2="977.35" stroke="#000" stroke-width="3.7" />
<line x1="400.15" y1="988.15" x2="400.15" y2="977.35" stroke="#000" stroke-width="3.7" />
<line x1="429.10" y1="988.15" x2="429.10" y2="969.35" stroke="#000" stroke-width="3.7" />
<line x1="458.05" y1="988.15" x2="458.05" y2="977.35" stroke="#000" stroke-width="3.7" />
<line x1="487.00" y1="988.15" x2="487.00" y2="977.35" stroke="#000" stroke-width="3.7" />
<line x1="515.95" y1="988.15" x2="515.95" y2="977.35" stroke="#000" stroke-width="3.7" />
<line x1="544.90" y1="988.15" x2="544.90" y2="977.35" stroke="#000" stroke-width="3.7" />
<line x1="573.85" y1="988.15" x2="573.85" y2="969.35" stroke="#000" stroke-width="3.7" />
<line x1="602.80" y1="988.15" x2="602.80" y2="977.35" stroke="#000" stroke-width="3.7" />
<line x1="631.75" y1="988.15" x2="631.75" y2="977.35" stroke="#000" stroke-width="3.7" />
<line x1="660.70" y1="988.15" x2="660.70" y2="977.35" stroke="#000" stroke-width="3.7" />
<line x1="689.65" y1="988.15" x2="689.65" y2="977.35" stroke="#000" stroke-width="3.7" />
<line x1="718.60" y1="988.15" x2="718.60" y2="969.35" stroke="#000" stroke-width="3.7" />
<line x1="747.55" y1="988.15" x2="747.55" y2="977.35" stroke="#000" stroke-width="3.7" />
<line x1="776.50" y1="988.15" x2="776.50" y2="977.35" stroke="#000" stroke-width="3.7" />
<line x1="805.45" y1="988.15" x2="805.45" y2="977.35" stroke="#000" stroke-width="3.7" />
<line x1="834.40" y1="988.15" x2="834.40" y2="977.35" stroke="#000" stroke-width="3.7" />
<line x1="863.35" y1="988.15" x2="863.35" y2="969.35" stroke="#000" stroke-width="3.7" />
<line x1="892.30" y1="988.15" x2="892.30" y2="977.35" stroke="#000" stroke-width="3.7" />
<line x1="921.25" y1="988.15" x2="921.25" y2="977.35" stroke="#000" stroke-width="3.7" />
<line x1="950.20" y1="988.15" x2="950.20" y2="977.35" stroke="#000" stroke-width="3.7" />
<line x1="979.15" y1="988.15" x2="979.15" y2="977.35" stroke="#000" stroke-width="3.7" />
<line x1="1008.10" y1="988.15" x2="1008.10" y2="969.35" stroke="#000" stroke-width="3.7" />
<line x1="139.60" y1="859.90" x2="158.40" y2="859.90" stroke="#000" stroke-width="3.7" />
<text transform="translate(129.10 872.60) scale(1 1.035)" font-size="37.2" text-anchor="end" >1</text>
<line x1="139.60" y1="936.50" x2="158.40" y2="936.50" stroke="#000" stroke-width="3.7" />
<text transform="translate(129.10 949.20) scale(1 1.035)" font-size="37.2" text-anchor="end" >0</text>
<line x1="139.60" y1="829.26" x2="150.40" y2="829.26" stroke="#000" stroke-width="3.7" />
<line x1="139.60" y1="844.58" x2="150.40" y2="844.58" stroke="#000" stroke-width="3.7" />
<line x1="139.60" y1="875.22" x2="150.40" y2="875.22" stroke="#000" stroke-width="3.7" />
<line x1="139.60" y1="890.54" x2="150.40" y2="890.54" stroke="#000" stroke-width="3.7" />
<line x1="139.60" y1="905.86" x2="150.40" y2="905.86" stroke="#000" stroke-width="3.7" />
<line x1="139.60" y1="921.18" x2="150.40" y2="921.18" stroke="#000" stroke-width="3.7" />
<line x1="139.60" y1="951.82" x2="150.40" y2="951.82" stroke="#000" stroke-width="3.7" />
<line x1="139.60" y1="967.14" x2="150.40" y2="967.14" stroke="#000" stroke-width="3.7" />
<line x1="139.60" y1="982.46" x2="150.40" y2="982.46" stroke="#000" stroke-width="3.7" />
<text transform="translate(94.00 908.35) rotate(-90) scale(1 1.0)" font-size="31.8" text-anchor="middle"><tspan font-style="italic">α</tspan></text>
<text transform="translate(982.20 882.05) scale(1 1.015)" font-size="31.8" text-anchor="end" >CPL</text>
<line x1="139.60" y1="1148.75" x2="139.60" y2="1129.95" stroke="#000" stroke-width="3.7" />
<line x1="168.55" y1="1148.75" x2="168.55" y2="1137.95" stroke="#000" stroke-width="3.7" />
<line x1="197.50" y1="1148.75" x2="197.50" y2="1137.95" stroke="#000" stroke-width="3.7" />
<line x1="226.45" y1="1148.75" x2="226.45" y2="1137.95" stroke="#000" stroke-width="3.7" />
<line x1="255.40" y1="1148.75" x2="255.40" y2="1137.95" stroke="#000" stroke-width="3.7" />
<line x1="284.35" y1="1148.75" x2="284.35" y2="1129.95" stroke="#000" stroke-width="3.7" />
<line x1="313.30" y1="1148.75" x2="313.30" y2="1137.95" stroke="#000" stroke-width="3.7" />
<line x1="342.25" y1="1148.75" x2="342.25" y2="1137.95" stroke="#000" stroke-width="3.7" />
<line x1="371.20" y1="1148.75" x2="371.20" y2="1137.95" stroke="#000" stroke-width="3.7" />
<line x1="400.15" y1="1148.75" x2="400.15" y2="1137.95" stroke="#000" stroke-width="3.7" />
<line x1="429.10" y1="1148.75" x2="429.10" y2="1129.95" stroke="#000" stroke-width="3.7" />
<line x1="458.05" y1="1148.75" x2="458.05" y2="1137.95" stroke="#000" stroke-width="3.7" />
<line x1="487.00" y1="1148.75" x2="487.00" y2="1137.95" stroke="#000" stroke-width="3.7" />
<line x1="515.95" y1="1148.75" x2="515.95" y2="1137.95" stroke="#000" stroke-width="3.7" />
<line x1="544.90" y1="1148.75" x2="544.90" y2="1137.95" stroke="#000" stroke-width="3.7" />
<line x1="573.85" y1="1148.75" x2="573.85" y2="1129.95" stroke="#000" stroke-width="3.7" />
<line x1="602.80" y1="1148.75" x2="602.80" y2="1137.95" stroke="#000" stroke-width="3.7" />
<line x1="631.75" y1="1148.75" x2="631.75" y2="1137.95" stroke="#000" stroke-width="3.7" />
<line x1="660.70" y1="1148.75" x2="660.70" y2="1137.95" stroke="#000" stroke-width="3.7" />
<line x1="689.65" y1="1148.75" x2="689.65" y2="1137.95" stroke="#000" stroke-width="3.7" />
<line x1="718.60" y1="1148.75" x2="718.60" y2="1129.95" stroke="#000" stroke-width="3.7" />
<line x1="747.55" y1="1148.75" x2="747.55" y2="1137.95" stroke="#000" stroke-width="3.7" />
<line x1="776.50" y1="1148.75" x2="776.50" y2="1137.95" stroke="#000" stroke-width="3.7" />
<line x1="805.45" y1="1148.75" x2="805.45" y2="1137.95" stroke="#000" stroke-width="3.7" />
<line x1="834.40" y1="1148.75" x2="834.40" y2="1137.95" stroke="#000" stroke-width="3.7" />
<line x1="863.35" y1="1148.75" x2="863.35" y2="1129.95" stroke="#000" stroke-width="3.7" />
<line x1="892.30" y1="1148.75" x2="892.30" y2="1137.95" stroke="#000" stroke-width="3.7" />
<line x1="921.25" y1="1148.75" x2="921.25" y2="1137.95" stroke="#000" stroke-width="3.7" />
<line x1="950.20" y1="1148.75" x2="950.20" y2="1137.95" stroke="#000" stroke-width="3.7" />
<line x1="979.15" y1="1148.75" x2="979.15" y2="1137.95" stroke="#000" stroke-width="3.7" />
<line x1="1008.10" y1="1148.75" x2="1008.10" y2="1129.95" stroke="#000" stroke-width="3.7" />
<line x1="139.60" y1="1027.80" x2="158.40" y2="1027.80" stroke="#000" stroke-width="3.7" />
<text transform="translate(129.10 1040.50) scale(1 1.035)" font-size="37.2" text-anchor="end" >3.00</text>
<line x1="139.60" y1="1095.50" x2="158.40" y2="1095.50" stroke="#000" stroke-width="3.7" />
<text transform="translate(129.10 1108.20) scale(1 1.035)" font-size="37.2" text-anchor="end" >2.75</text>
<line x1="139.60" y1="1000.72" x2="150.40" y2="1000.72" stroke="#000" stroke-width="3.7" />
<line x1="139.60" y1="1014.26" x2="150.40" y2="1014.26" stroke="#000" stroke-width="3.7" />
<line x1="139.60" y1="1041.34" x2="150.40" y2="1041.34" stroke="#000" stroke-width="3.7" />
<line x1="139.60" y1="1054.88" x2="150.40" y2="1054.88" stroke="#000" stroke-width="3.7" />
<line x1="139.60" y1="1068.42" x2="150.40" y2="1068.42" stroke="#000" stroke-width="3.7" />
<line x1="139.60" y1="1081.96" x2="150.40" y2="1081.96" stroke="#000" stroke-width="3.7" />
<line x1="139.60" y1="1109.04" x2="150.40" y2="1109.04" stroke="#000" stroke-width="3.7" />
<line x1="139.60" y1="1122.58" x2="150.40" y2="1122.58" stroke="#000" stroke-width="3.7" />
<line x1="139.60" y1="1136.12" x2="150.40" y2="1136.12" stroke="#000" stroke-width="3.7" />
<text transform="translate(45.50 1068.45) rotate(-90) scale(1 1.0)" font-size="31.8" text-anchor="middle">log(<tspan font-style="italic">E</tspan><tspan font-size="22.26" dy="5.09">p</tspan><tspan font-size="22.26" dy="-5.09">&#8203;</tspan>/keV)</text>
<text transform="translate(982.20 1042.65) scale(1 1.015)" font-size="31.8" text-anchor="end" >CPL</text>
<line x1="139.60" y1="1309.35" x2="139.60" y2="1290.55" stroke="#000" stroke-width="3.7" />
<line x1="168.55" y1="1309.35" x2="168.55" y2="1298.55" stroke="#000" stroke-width="3.7" />
<line x1="197.50" y1="1309.35" x2="197.50" y2="1298.55" stroke="#000" stroke-width="3.7" />
<line x1="226.45" y1="1309.35" x2="226.45" y2="1298.55" stroke="#000" stroke-width="3.7" />
<line x1="255.40" y1="1309.35" x2="255.40" y2="1298.55" stroke="#000" stroke-width="3.7" />
<line x1="284.35" y1="1309.35" x2="284.35" y2="1290.55" stroke="#000" stroke-width="3.7" />
<line x1="313.30" y1="1309.35" x2="313.30" y2="1298.55" stroke="#000" stroke-width="3.7" />
<line x1="342.25" y1="1309.35" x2="342.25" y2="1298.55" stroke="#000" stroke-width="3.7" />
<line x1="371.20" y1="1309.35" x2="371.20" y2="1298.55" stroke="#000" stroke-width="3.7" />
<line x1="400.15" y1="1309.35" x2="400.15" y2="1298.55" stroke="#000" stroke-width="3.7" />
<line x1="429.10" y1="1309.35" x2="429.10" y2="1290.55" stroke="#000" stroke-width="3.7" />
<line x1="458.05" y1="1309.35" x2="458.05" y2="1298.55" stroke="#000" stroke-width="3.7" />
<line x1="487.00" y1="1309.35" x2="487.00" y2="1298.55" stroke="#000" stroke-width="3.7" />
<line x1="515.95" y1="1309.35" x2="515.95" y2="1298.55" stroke="#000" stroke-width="3.7" />
<line x1="544.90" y1="1309.35" x2="544.90" y2="1298.55" stroke="#000" stroke-width="3.7" />
<line x1="573.85" y1="1309.35" x2="573.85" y2="1290.55" stroke="#000" stroke-width="3.7" />
<line x1="602.80" y1="1309.35" x2="602.80" y2="1298.55" stroke="#000" stroke-width="3.7" />
<line x1="631.75" y1="1309.35" x2="631.75" y2="1298.55" stroke="#000" stroke-width="3.7" />
<line x1="660.70" y1="1309.35" x2="660.70" y2="1298.55" stroke="#000" stroke-width="3.7" />
<line x1="689.65" y1="1309.35" x2="689.65" y2="1298.55" stroke="#000" stroke-width="3.7" />
<line x1="718.60" y1="1309.35" x2="718.60" y2="1290.55" stroke="#000" stroke-width="3.7" />
<line x1="747.55" y1="1309.35" x2="747.55" y2="1298.55" stroke="#000" stroke-width="3.7" />
<line x1="776.50" y1="1309.35" x2="776.50" y2="1298.55" stroke="#000" stroke-width="3.7" />
<line x1="805.45" y1="1309.35" x2="805.45" y2="1298.55" stroke="#000" stroke-width="3.7" />
<line x1="834.40" y1="1309.35" x2="834.40" y2="1298.55" stroke="#000" stroke-width="3.7" />
<line x1="863.35" y1="1309.35" x2="863.35" y2="1290.55" stroke="#000" stroke-width="3.7" />
<line x1="892.30" y1="1309.35" x2="892.30" y2="1298.55" stroke="#000" stroke-width="3.7" />
<line x1="921.25" y1="1309.35" x2="921.25" y2="1298.55" stroke="#000" stroke-width="3.7" />
<line x1="950.20" y1="1309.35" x2="950.20" y2="1298.55" stroke="#000" stroke-width="3.7" />
<line x1="979.15" y1="1309.35" x2="979.15" y2="1298.55" stroke="#000" stroke-width="3.7" />
<line x1="1008.10" y1="1309.35" x2="1008.10" y2="1290.55" stroke="#000" stroke-width="3.7" />
<line x1="139.60" y1="1160.70" x2="158.40" y2="1160.70" stroke="#000" stroke-width="3.7" />
<text transform="translate(129.10 1173.40) scale(1 1.035)" font-size="37.2" text-anchor="end" >2.2</text>
<line x1="139.60" y1="1258.50" x2="158.40" y2="1258.50" stroke="#000" stroke-width="3.7" />
<text transform="translate(129.10 1271.20) scale(1 1.035)" font-size="37.2" text-anchor="end" >2.0</text>
<line x1="139.60" y1="1185.15" x2="150.40" y2="1185.15" stroke="#000" stroke-width="3.7" />
<line x1="139.60" y1="1209.60" x2="150.40" y2="1209.60" stroke="#000" stroke-width="3.7" />
<line x1="139.60" y1="1234.05" x2="150.40" y2="1234.05" stroke="#000" stroke-width="3.7" />
<line x1="139.60" y1="1282.95" x2="150.40" y2="1282.95" stroke="#000" stroke-width="3.7" />
<text transform="translate(63.50 1229.05) rotate(-90) scale(1 1.0)" font-size="31.8" text-anchor="middle">log(<tspan font-style="italic">kT</tspan>/keV)</text>
<text transform="translate(982.20 1203.25) scale(1 1.015)" font-size="31.8" text-anchor="end" >BB</text>
<line x1="139.60" y1="1469.95" x2="139.60" y2="1451.15" stroke="#000" stroke-width="3.7" />
<line x1="168.55" y1="1469.95" x2="168.55" y2="1459.15" stroke="#000" stroke-width="3.7" />
<line x1="197.50" y1="1469.95" x2="197.50" y2="1459.15" stroke="#000" stroke-width="3.7" />
<line x1="226.45" y1="1469.95" x2="226.45" y2="1459.15" stroke="#000" stroke-width="3.7" />
<line x1="255.40" y1="1469.95" x2="255.40" y2="1459.15" stroke="#000" stroke-width="3.7" />
<line x1="284.35" y1="1469.95" x2="284.35" y2="1451.15" stroke="#000" stroke-width="3.7" />
<line x1="313.30" y1="1469.95" x2="313.30" y2="1459.15" stroke="#000" stroke-width="3.7" />
<line x1="342.25" y1="1469.95" x2="342.25" y2="1459.15" stroke="#000" stroke-width="3.7" />
<line x1="371.20" y1="1469.95" x2="371.20" y2="1459.15" stroke="#000" stroke-width="3.7" />
<line x1="400.15" y1="1469.95" x2="400.15" y2="1459.15" stroke="#000" stroke-width="3.7" />
<line x1="429.10" y1="1469.95" x2="429.10" y2="1451.15" stroke="#000" stroke-width="3.7" />
<line x1="458.05" y1="1469.95" x2="458.05" y2="1459.15" stroke="#000" stroke-width="3.7" />
<line x1="487.00" y1="1469.95" x2="487.00" y2="1459.15" stroke="#000" stroke-width="3.7" />
<line x1="515.95" y1="1469.95" x2="515.95" y2="1459.15" stroke="#000" stroke-width="3.7" />
<line x1="544.90" y1="1469.95" x2="544.90" y2="1459.15" stroke="#000" stroke-width="3.7" />
<line x1="573.85" y1="1469.95" x2="573.85" y2="1451.15" stroke="#000" stroke-width="3.7" />
<line x1="602.80" y1="1469.95" x2="602.80" y2="1459.15" stroke="#000" stroke-width="3.7" />
<line x1="631.75" y1="1469.95" x2="631.75" y2="1459.15" stroke="#000" stroke-width="3.7" />
<line x1="660.70" y1="1469.95" x2="660.70" y2="1459.15" stroke="#000" stroke-width="3.7" />
<line x1="689.65" y1="1469.95" x2="689.65" y2="1459.15" stroke="#000" stroke-width="3.7" />
<line x1="718.60" y1="1469.95" x2="718.60" y2="1451.15" stroke="#000" stroke-width="3.7" />
<line x1="747.55" y1="1469.95" x2="747.55" y2="1459.15" stroke="#000" stroke-width="3.7" />
<line x1="776.50" y1="1469.95" x2="776.50" y2="1459.15" stroke="#000" stroke-width="3.7" />
<line x1="805.45" y1="1469.95" x2="805.45" y2="1459.15" stroke="#000" stroke-width="3.7" />
<line x1="834.40" y1="1469.95" x2="834.40" y2="1459.15" stroke="#000" stroke-width="3.7" />
<line x1="863.35" y1="1469.95" x2="863.35" y2="1451.15" stroke="#000" stroke-width="3.7" />
<line x1="892.30" y1="1469.95" x2="892.30" y2="1459.15" stroke="#000" stroke-width="3.7" />
<line x1="921.25" y1="1469.95" x2="921.25" y2="1459.15" stroke="#000" stroke-width="3.7" />
<line x1="950.20" y1="1469.95" x2="950.20" y2="1459.15" stroke="#000" stroke-width="3.7" />
<line x1="979.15" y1="1469.95" x2="979.15" y2="1459.15" stroke="#000" stroke-width="3.7" />
<line x1="1008.10" y1="1469.95" x2="1008.10" y2="1451.15" stroke="#000" stroke-width="3.7" />
<line x1="139.60" y1="1319.80" x2="158.40" y2="1319.80" stroke="#000" stroke-width="3.7" />
<text transform="translate(129.10 1332.50) scale(1 1.035)" font-size="37.2" text-anchor="end" >15000</text>
<line x1="139.60" y1="1372.80" x2="158.40" y2="1372.80" stroke="#000" stroke-width="3.7" />
<text transform="translate(129.10 1385.50) scale(1 1.035)" font-size="37.2" text-anchor="end" >10000</text>
<line x1="139.60" y1="1425.30" x2="158.40" y2="1425.30" stroke="#000" stroke-width="3.7" />
<text transform="translate(129.10 1438.00) scale(1 1.035)" font-size="37.2" text-anchor="end" >5000</text>
<text transform="translate(20.50 1389.65) rotate(-90) scale(1 1.015)" font-size="31.8" text-anchor="middle">Rate</text>
<text transform="translate(982.20 1363.85) scale(1 1.015)" font-size="31.8" text-anchor="end" >Light Curve</text>
<line x1="139.60" y1="1630.55" x2="139.60" y2="1611.75" stroke="#000" stroke-width="3.7" />
<line x1="168.55" y1="1630.55" x2="168.55" y2="1619.75" stroke="#000" stroke-width="3.7" />
<line x1="197.50" y1="1630.55" x2="197.50" y2="1619.75" stroke="#000" stroke-width="3.7" />
<line x1="226.45" y1="1630.55" x2="226.45" y2="1619.75" stroke="#000" stroke-width="3.7" />
<line x1="255.40" y1="1630.55" x2="255.40" y2="1619.75" stroke="#000" stroke-width="3.7" />
<line x1="284.35" y1="1630.55" x2="284.35" y2="1611.75" stroke="#000" stroke-width="3.7" />
<line x1="313.30" y1="1630.55" x2="313.30" y2="1619.75" stroke="#000" stroke-width="3.7" />
<line x1="342.25" y1="1630.55" x2="342.25" y2="1619.75" stroke="#000" stroke-width="3.7" />
<line x1="371.20" y1="1630.55" x2="371.20" y2="1619.75" stroke="#000" stroke-width="3.7" />
<line x1="400.15" y1="1630.55" x2="400.15" y2="1619.75" stroke="#000" stroke-width="3.7" />
<line x1="429.10" y1="1630.55" x2="429.10" y2="1611.75" stroke="#000" stroke-width="3.7" />
<line x1="458.05" y1="1630.55" x2="458.05" y2="1619.75" stroke="#000" stroke-width="3.7" />
<line x1="487.00" y1="1630.55" x2="487.00" y2="1619.75" stroke="#000" stroke-width="3.7" />
<line x1="515.95" y1="1630.55" x2="515.95" y2="1619.75" stroke="#000" stroke-width="3.7" />
<line x1="544.90" y1="1630.55" x2="544.90" y2="1619.75" stroke="#000" stroke-width="3.7" />
<line x1="573.85" y1="1630.55" x2="573.85" y2="1611.75" stroke="#000" stroke-width="3.7" />
<line x1="602.80" y1="1630.55" x2="602.80" y2="1619.75" stroke="#000" stroke-width="3.7" />
<line x1="631.75" y1="1630.55" x2="631.75" y2="1619.75" stroke="#000" stroke-width="3.7" />
<line x1="660.70" y1="1630.55" x2="660.70" y2="1619.75" stroke="#000" stroke-width="3.7" />
<line x1="689.65" y1="1630.55" x2="689.65" y2="1619.75" stroke="#000" stroke-width="3.7" />
<line x1="718.60" y1="1630.55" x2="718.60" y2="1611.75" stroke="#000" stroke-width="3.7" />
<line x1="747.55" y1="1630.55" x2="747.55" y2="1619.75" stroke="#000" stroke-width="3.7" />
<line x1="776.50" y1="1630.55" x2="776.50" y2="1619.75" stroke="#000" stroke-width="3.7" />
<line x1="805.45" y1="1630.55" x2="805.45" y2="1619.75" stroke="#000" stroke-width="3.7" />
<line x1="834.40" y1="1630.55" x2="834.40" y2="1619.75" stroke="#000" stroke-width="3.7" />
<line x1="863.35" y1="1630.55" x2="863.35" y2="1611.75" stroke="#000" stroke-width="3.7" />
<line x1="892.30" y1="1630.55" x2="892.30" y2="1619.75" stroke="#000" stroke-width="3.7" />
<line x1="921.25" y1="1630.55" x2="921.25" y2="1619.75" stroke="#000" stroke-width="3.7" />
<line x1="950.20" y1="1630.55" x2="950.20" y2="1619.75" stroke="#000" stroke-width="3.7" />
<line x1="979.15" y1="1630.55" x2="979.15" y2="1619.75" stroke="#000" stroke-width="3.7" />
<line x1="1008.10" y1="1630.55" x2="1008.10" y2="1611.75" stroke="#000" stroke-width="3.7" />
<line x1="139.60" y1="1482.10" x2="158.40" y2="1482.10" stroke="#000" stroke-width="3.7" />
<text transform="translate(129.10 1494.80) scale(1 1.035)" font-size="37.2" text-anchor="end" >100</text>
<line x1="139.60" y1="1605.90" x2="158.40" y2="1605.90" stroke="#000" stroke-width="3.7" />
<text transform="translate(129.10 1618.60) scale(1 1.035)" font-size="37.2" text-anchor="end" >0</text>
<line x1="139.60" y1="1506.86" x2="150.40" y2="1506.86" stroke="#000" stroke-width="3.7" />
<line x1="139.60" y1="1531.62" x2="150.40" y2="1531.62" stroke="#000" stroke-width="3.7" />
<line x1="139.60" y1="1556.38" x2="150.40" y2="1556.38" stroke="#000" stroke-width="3.7" />
<line x1="139.60" y1="1581.14" x2="150.40" y2="1581.14" stroke="#000" stroke-width="3.7" />
<text transform="translate(58.00 1550.25) rotate(-90) scale(1 1.015)" font-size="31.8" text-anchor="middle">Flux Ratio</text>
<text transform="translate(980.20 1524.45) scale(0.968 1.015)" font-size="31.8" text-anchor="end" ><tspan font-style="italic">F</tspan><tspan font-size="22.26" dy="5.09">IC</tspan><tspan font-size="22.26" dy="-5.09">&#8203;</tspan>/<tspan font-style="italic">F</tspan><tspan font-size="22.26" dy="5.09">total</tspan><tspan font-size="22.26" dy="-5.09">&#8203;</tspan> × 100%</text>
<line x1="138.50" y1="24.55" x2="1009.20" y2="24.55" stroke="#000" stroke-width="2.2" />
<line x1="138.50" y1="185.15" x2="1009.20" y2="185.15" stroke="#000" stroke-width="2.2" />
<line x1="138.50" y1="345.75" x2="1009.20" y2="345.75" stroke="#000" stroke-width="2.2" />
<line x1="138.50" y1="506.35" x2="1009.20" y2="506.35" stroke="#000" stroke-width="2.2" />
<line x1="138.50" y1="666.95" x2="1009.20" y2="666.95" stroke="#000" stroke-width="2.2" />
<line x1="138.50" y1="827.55" x2="1009.20" y2="827.55" stroke="#000" stroke-width="2.2" />
<line x1="138.50" y1="988.15" x2="1009.20" y2="988.15" stroke="#000" stroke-width="2.2" />
<line x1="138.50" y1="1148.75" x2="1009.20" y2="1148.75" stroke="#000" stroke-width="2.2" />
<line x1="138.50" y1="1309.35" x2="1009.20" y2="1309.35" stroke="#000" stroke-width="2.2" />
<line x1="138.50" y1="1469.95" x2="1009.20" y2="1469.95" stroke="#000" stroke-width="2.2" />
<line x1="138.50" y1="1630.55" x2="1009.20" y2="1630.55" stroke="#000" stroke-width="2.2" />
<line x1="139.60" y1="24.55" x2="139.60" y2="1630.55" stroke="#000" stroke-width="2.2" />
<line x1="1008.10" y1="24.55" x2="1008.10" y2="1630.55" stroke="#000" stroke-width="2.2" />
<text transform="translate(139.60 1666.20) scale(1 1.035)" font-size="37.2" text-anchor="middle" >−0.050</text>
<text transform="translate(284.35 1666.20) scale(1 1.035)" font-size="37.2" text-anchor="middle" >−0.025</text>
<text transform="translate(429.10 1666.20) scale(1 1.035)" font-size="37.2" text-anchor="middle" >0.000</text>
<text transform="translate(573.85 1666.20) scale(1 1.035)" font-size="37.2" text-anchor="middle" >0.025</text>
<text transform="translate(718.60 1666.20) scale(1 1.035)" font-size="37.2" text-anchor="middle" >0.050</text>
<text transform="translate(863.35 1666.20) scale(1 1.035)" font-size="37.2" text-anchor="middle" >0.075</text>
<text transform="translate(1008.10 1666.20) scale(1 1.035)" font-size="37.2" text-anchor="middle" >0.100</text>
<text transform="translate(573.85 1704.70) scale(0.95 1.015)" font-size="31.8" text-anchor="middle" ><tspan font-style="italic">T</tspan> − <tspan font-style="italic">T</tspan><tspan font-size="22.26" dy="5.09">0</tspan><tspan font-size="22.26" dy="-5.09">&#8203;</tspan> (s)</text>
<clipPath id="cRT"><rect x="1181.8" y="24.5" width="868.3999999999999" height="642.5"/></clipPath>
<g clip-path="url(#cRT)" stroke-linecap="butt" stroke-linejoin="round">
<path d="M1219.6 276.7 L1226.5 273.0 L1233.5 269.4 L1240.5 265.8 L1247.5 262.2 L1254.6 258.7 L1261.6 255.2 L1268.7 251.8 L1275.8 248.3 L1282.9 245.0 L1290.0 241.6 L1297.1 238.3 L1304.2 235.0 L1311.4 231.8 L1318.5 228.6 L1325.7 225.4 L1332.9 222.3 L1340.1 219.2 L1347.3 216.2 L1354.6 213.1 L1361.8 210.1 L1369.1 207.1 L1376.4 204.2 L1383.6 201.3 L1391.0 198.4 L1398.3 195.6 L1405.6 192.7 L1412.9 189.9 L1420.3 187.2 L1427.7 184.4 L1435.0 181.7 L1442.4 179.0 L1449.8 176.3 L1457.3 173.7 L1464.7 171.1 L1472.1 168.6 L1479.6 166.1 L1487.1 163.6 L1494.6 161.2 L1502.1 158.8 L1509.6 156.5 L1517.1 154.2 L1524.7 152.1 L1532.2 149.9 L1539.8 147.9 L1547.4 145.9 L1555.1 144.0 L1562.7 142.2 L1570.4 140.5 L1578.0 138.8 L1585.7 137.3 L1593.5 135.8 L1601.2 134.5 L1609.0 133.2 L1616.7 132.0 L1624.5 131.0 L1632.3 130.3 L1640.2 130.0 L1648.0 130.3 L1655.8 131.2 L1663.5 132.7 L1671.0 134.8 L1678.4 137.5 L1685.5 140.8 L1692.4 144.6 L1699.0 148.9 L1705.4 153.7 L1711.4 158.9 L1717.2 164.4 L1722.6 170.3 L1727.7 176.5 L1732.4 182.8 L1736.8 189.4 L1740.8 196.1 L1744.6 203.0 L1748.1 209.9 L1751.6 217.0 L1754.9 224.0 L1758.2 231.1 L1761.5 238.2 L1764.9 245.4 L1768.2 252.5 L1771.4 259.7 L1774.6 266.9 L1777.6 274.1 L1780.5 281.4 L1783.2 288.8 L1785.8 296.2 L1788.2 303.7 L1790.6 311.2 L1792.8 318.7 L1795.0 326.3 L1797.1 333.9 L1799.1 341.4 L1801.1 349.0 L1803.1 356.6 L1805.0 364.3 L1806.8 371.9 L1808.7 379.5 L1810.4 387.2 L1812.2 394.8 L1813.9 402.5 L1815.6 410.2 L1817.2 417.9 L1818.8 425.5 L1820.3 433.2 L1821.9 440.9 L1823.4 448.7 L1824.9 456.4 L1826.3 464.1 L1827.7 471.8 L1829.1 479.6 L1830.5 487.3 L1831.8 495.0 L1833.1 502.8 L1834.4 510.5 L1835.7 518.3 L1837.0 526.0 L1838.2 533.8 L1839.5 541.6 L1840.7 549.3 L1841.9 557.1 L1843.1 564.9 L1844.2 572.7 L1845.4 580.4 L1846.6 588.2 L1847.7 596.0 L1848.9 603.8 L1850.0 611.5 L1851.1 619.3 L1852.3 627.1 L1853.4 634.9 L1854.6 642.6 L1855.7 650.4 L1856.8 658.2 L1858.0 665.9 L1859.1 673.7 L1860.3 681.5 L1861.4 689.2 L1862.6 697.0" fill="none" stroke="#023eff" stroke-width="4.2" />
<path d="M1219.5 263.0 L1227.0 259.6 L1234.6 256.1 L1242.1 252.8 L1249.7 249.4 L1257.3 246.1 L1264.9 242.8 L1272.5 239.6 L1280.1 236.4 L1287.8 233.2 L1295.4 230.1 L1303.1 226.9 L1310.8 223.8 L1318.5 220.8 L1326.2 217.7 L1333.9 214.7 L1341.6 211.7 L1349.3 208.8 L1357.1 205.8 L1364.8 202.9 L1372.6 200.0 L1380.3 197.1 L1388.1 194.2 L1395.9 191.4 L1403.6 188.5 L1411.4 185.7 L1419.2 182.9 L1427.0 180.1 L1434.8 177.3 L1442.6 174.5 L1450.4 171.8 L1458.2 169.1 L1466.1 166.5 L1474.0 164.0 L1481.9 161.6 L1489.9 159.4 L1497.9 157.2 L1505.9 155.1 L1514.0 153.1 L1522.0 151.1 L1530.0 149.1 L1538.1 147.2 L1546.1 145.3 L1554.1 143.4 L1562.1 141.6 L1570.1 139.7 L1578.1 137.9 L1586.1 136.1 L1594.2 134.4 L1602.3 132.7 L1610.4 131.1 L1618.6 129.6 L1626.9 128.2 L1635.2 126.9 L1643.5 125.8 L1651.9 124.9 L1660.2 124.1 L1668.6 123.7 L1676.9 123.5 L1685.2 123.6 L1693.5 124.1 L1701.7 125.0 L1709.8 126.3 L1717.9 128.0 L1725.8 130.2 L1733.6 132.8 L1741.2 136.0 L1748.6 139.6 L1755.8 143.7 L1762.6 148.2 L1769.0 153.3 L1775.1 158.7 L1780.8 164.6 L1786.1 170.9 L1791.1 177.5 L1795.8 184.4 L1800.3 191.6 L1804.4 198.9 L1808.4 206.4 L1812.2 214.0 L1815.9 221.7 L1819.4 229.4 L1822.8 237.1 L1826.2 244.7 L1829.4 252.4 L1832.6 260.1 L1835.6 267.8 L1838.5 275.5 L1841.3 283.2 L1844.0 291.0 L1846.7 298.9 L1849.2 306.7 L1851.6 314.6 L1853.9 322.6 L1856.2 330.5 L1858.4 338.5 L1860.6 346.5 L1862.7 354.5 L1864.7 362.5 L1866.7 370.5 L1868.7 378.6 L1870.5 386.6 L1872.4 394.7 L1874.2 402.8 L1875.9 410.9 L1877.6 419.0 L1879.2 427.1 L1880.9 435.2 L1882.4 443.3 L1884.0 451.5 L1885.5 459.6 L1886.9 467.7 L1888.4 475.9 L1889.8 484.1 L1891.2 492.2 L1892.5 500.4 L1893.8 508.6 L1895.1 516.8 L1896.4 525.0 L1897.7 533.2 L1898.9 541.3 L1900.2 549.5 L1901.4 557.7 L1902.6 565.9 L1903.8 574.1 L1905.0 582.3 L1906.2 590.5 L1907.3 598.7 L1908.5 606.9 L1909.7 615.1 L1910.9 623.3 L1912.0 631.5 L1913.2 639.7 L1914.4 647.9 L1915.6 656.1 L1916.8 664.3 L1918.0 672.5 L1919.2 680.6 L1920.5 688.8 L1921.7 696.9" fill="none" stroke="#ff7c00" stroke-width="4.2" />
<path d="M1219.6 265.5 L1226.8 262.1 L1234.1 258.7 L1241.4 255.4 L1248.8 252.0 L1256.1 248.7 L1263.5 245.5 L1270.9 242.2 L1278.3 239.0 L1285.7 235.9 L1293.1 232.7 L1300.5 229.6 L1308.0 226.6 L1315.5 223.5 L1323.0 220.5 L1330.5 217.5 L1338.0 214.6 L1345.5 211.6 L1353.0 208.8 L1360.6 205.9 L1368.1 203.1 L1375.7 200.3 L1383.3 197.5 L1390.9 194.8 L1398.5 192.1 L1406.1 189.4 L1413.7 186.7 L1421.3 184.1 L1428.9 181.5 L1436.6 179.0 L1444.2 176.5 L1451.9 174.0 L1459.5 171.5 L1467.2 169.1 L1474.9 166.7 L1482.6 164.4 L1490.3 162.2 L1498.0 160.0 L1505.7 157.8 L1513.5 155.7 L1521.3 153.7 L1529.1 151.8 L1536.9 149.9 L1544.7 148.1 L1552.6 146.5 L1560.5 144.8 L1568.4 143.3 L1576.4 141.9 L1584.3 140.6 L1592.4 139.4 L1600.4 138.3 L1608.5 137.2 L1616.6 136.4 L1624.7 135.6 L1632.9 135.0 L1641.1 134.6 L1649.2 134.4 L1657.4 134.5 L1665.5 134.8 L1673.5 135.5 L1681.5 136.6 L1689.4 138.1 L1697.1 140.0 L1704.8 142.3 L1712.3 145.0 L1719.6 148.2 L1726.8 151.7 L1733.8 155.7 L1740.5 160.0 L1747.0 164.6 L1753.3 169.7 L1759.3 175.0 L1765.0 180.7 L1770.3 186.7 L1775.4 193.0 L1780.1 199.5 L1784.6 206.3 L1788.8 213.2 L1792.8 220.3 L1796.7 227.5 L1800.3 234.8 L1803.9 242.1 L1807.3 249.5 L1810.6 256.9 L1813.7 264.3 L1816.8 271.8 L1819.7 279.3 L1822.5 286.9 L1825.2 294.5 L1827.9 302.1 L1830.4 309.8 L1832.9 317.4 L1835.3 325.1 L1837.6 332.9 L1839.8 340.6 L1842.0 348.3 L1844.2 356.1 L1846.3 363.9 L1848.3 371.7 L1850.3 379.5 L1852.2 387.3 L1854.1 395.1 L1855.9 402.9 L1857.7 410.8 L1859.4 418.7 L1861.1 426.5 L1862.8 434.4 L1864.4 442.3 L1866.0 450.2 L1867.5 458.1 L1869.0 466.0 L1870.5 473.9 L1871.9 481.9 L1873.3 489.8 L1874.7 497.8 L1876.1 505.7 L1877.4 513.7 L1878.7 521.6 L1880.0 529.6 L1881.3 537.6 L1882.5 545.5 L1883.8 553.5 L1885.0 561.5 L1886.2 569.5 L1887.4 577.4 L1888.6 585.4 L1889.8 593.4 L1891.0 601.4 L1892.2 609.4 L1893.3 617.3 L1894.5 625.3 L1895.7 633.3 L1896.9 641.3 L1898.1 649.2 L1899.3 657.2 L1900.5 665.2 L1901.7 673.1 L1902.9 681.1 L1904.2 689.0 L1905.4 697.0" fill="none" stroke="#1ac938" stroke-width="4.2" />
<path d="M1219.5 284.5 L1226.3 280.8 L1233.3 277.3 L1240.2 273.9 L1247.2 270.5 L1254.2 267.2 L1261.2 264.0 L1268.3 260.9 L1275.4 257.8 L1282.5 254.8 L1289.7 251.8 L1296.9 248.9 L1304.1 246.1 L1311.3 243.3 L1318.5 240.5 L1325.8 237.8 L1333.1 235.1 L1340.3 232.5 L1347.6 229.9 L1354.9 227.3 L1362.3 224.7 L1369.6 222.2 L1376.9 219.7 L1384.2 217.1 L1391.6 214.6 L1398.9 212.1 L1406.3 209.6 L1413.6 207.1 L1420.9 204.6 L1428.3 202.1 L1435.6 199.6 L1442.9 197.0 L1450.2 194.5 L1457.6 192.0 L1464.9 189.6 L1472.3 187.2 L1479.7 185.0 L1487.1 182.8 L1494.5 180.7 L1502.0 178.7 L1509.5 176.8 L1517.0 174.9 L1524.5 173.1 L1532.0 171.3 L1539.6 169.5 L1547.1 167.8 L1554.6 166.1 L1562.2 164.4 L1569.8 162.8 L1577.4 161.3 L1585.0 159.9 L1592.6 158.6 L1600.3 157.5 L1608.1 156.6 L1615.8 155.8 L1623.7 155.2 L1631.5 154.9 L1639.4 154.9 L1647.2 155.1 L1655.0 155.8 L1662.7 156.8 L1670.3 158.2 L1677.8 160.0 L1685.1 162.4 L1692.3 165.1 L1699.3 168.3 L1706.1 171.9 L1712.7 175.9 L1719.0 180.3 L1725.2 185.0 L1731.1 190.0 L1736.7 195.4 L1742.1 201.0 L1747.2 206.9 L1752.0 213.0 L1756.6 219.4 L1760.9 225.8 L1765.0 232.5 L1768.9 239.2 L1772.7 245.9 L1776.3 252.8 L1779.7 259.7 L1783.0 266.8 L1786.2 273.8 L1789.2 281.0 L1792.1 288.2 L1794.9 295.4 L1797.6 302.7 L1800.2 310.0 L1802.7 317.3 L1805.1 324.7 L1807.5 332.1 L1809.7 339.5 L1811.9 347.0 L1814.0 354.4 L1816.1 361.9 L1818.1 369.4 L1820.1 376.8 L1822.0 384.3 L1823.8 391.9 L1825.6 399.4 L1827.3 406.9 L1829.0 414.5 L1830.7 422.0 L1832.3 429.6 L1833.9 437.2 L1835.4 444.8 L1836.9 452.4 L1838.4 460.0 L1839.8 467.6 L1841.2 475.2 L1842.6 482.8 L1844.0 490.5 L1845.3 498.1 L1846.7 505.7 L1848.0 513.4 L1849.3 521.0 L1850.5 528.7 L1851.8 536.3 L1853.1 544.0 L1854.4 551.6 L1855.6 559.3 L1856.9 566.9 L1858.1 574.6 L1859.4 582.2 L1860.6 589.8 L1861.9 597.5 L1863.1 605.1 L1864.3 612.8 L1865.6 620.4 L1866.8 628.1 L1868.0 635.7 L1869.2 643.4 L1870.4 651.0 L1871.6 658.7 L1872.8 666.4 L1874.0 674.0 L1875.1 681.7 L1876.3 689.3 L1877.4 697.0" fill="none" stroke="#e8000b" stroke-width="4.2" />
</g>
<line x1="1201.16" y1="667.00" x2="1201.16" y2="656.20" stroke="#000" stroke-width="3.7" />
<line x1="1201.16" y1="24.50" x2="1201.16" y2="35.30" stroke="#000" stroke-width="3.7" />
<line x1="1220.97" y1="667.00" x2="1220.97" y2="656.20" stroke="#000" stroke-width="3.7" />
<line x1="1220.97" y1="24.50" x2="1220.97" y2="35.30" stroke="#000" stroke-width="3.7" />
<line x1="1237.15" y1="667.00" x2="1237.15" y2="656.20" stroke="#000" stroke-width="3.7" />
<line x1="1237.15" y1="24.50" x2="1237.15" y2="35.30" stroke="#000" stroke-width="3.7" />
<line x1="1250.84" y1="667.00" x2="1250.84" y2="656.20" stroke="#000" stroke-width="3.7" />
<line x1="1250.84" y1="24.50" x2="1250.84" y2="35.30" stroke="#000" stroke-width="3.7" />
<line x1="1262.69" y1="667.00" x2="1262.69" y2="656.20" stroke="#000" stroke-width="3.7" />
<line x1="1262.69" y1="24.50" x2="1262.69" y2="35.30" stroke="#000" stroke-width="3.7" />
<line x1="1273.15" y1="667.00" x2="1273.15" y2="656.20" stroke="#000" stroke-width="3.7" />
<line x1="1273.15" y1="24.50" x2="1273.15" y2="35.30" stroke="#000" stroke-width="3.7" />
<line x1="1282.50" y1="667.00" x2="1282.50" y2="648.20" stroke="#000" stroke-width="3.7" />
<line x1="1282.50" y1="24.50" x2="1282.50" y2="43.30" stroke="#000" stroke-width="3.7" />
<text transform="translate(1282.20 710.70) scale(1 1.08)" font-size="35.6" text-anchor="middle" >10<tspan font-size="25.6" dy="-20.7">1</tspan></text>
<line x1="1344.03" y1="667.00" x2="1344.03" y2="656.20" stroke="#000" stroke-width="3.7" />
<line x1="1344.03" y1="24.50" x2="1344.03" y2="35.30" stroke="#000" stroke-width="3.7" />
<line x1="1380.02" y1="667.00" x2="1380.02" y2="656.20" stroke="#000" stroke-width="3.7" />
<line x1="1380.02" y1="24.50" x2="1380.02" y2="35.30" stroke="#000" stroke-width="3.7" />
<line x1="1405.56" y1="667.00" x2="1405.56" y2="656.20" stroke="#000" stroke-width="3.7" />
<line x1="1405.56" y1="24.50" x2="1405.56" y2="35.30" stroke="#000" stroke-width="3.7" />
<line x1="1425.37" y1="667.00" x2="1425.37" y2="656.20" stroke="#000" stroke-width="3.7" />
<line x1="1425.37" y1="24.50" x2="1425.37" y2="35.30" stroke="#000" stroke-width="3.7" />
<line x1="1441.55" y1="667.00" x2="1441.55" y2="656.20" stroke="#000" stroke-width="3.7" />
<line x1="1441.55" y1="24.50" x2="1441.55" y2="35.30" stroke="#000" stroke-width="3.7" />
<line x1="1455.24" y1="667.00" x2="1455.24" y2="656.20" stroke="#000" stroke-width="3.7" />
<line x1="1455.24" y1="24.50" x2="1455.24" y2="35.30" stroke="#000" stroke-width="3.7" />
<line x1="1467.09" y1="667.00" x2="1467.09" y2="656.20" stroke="#000" stroke-width="3.7" />
<line x1="1467.09" y1="24.50" x2="1467.09" y2="35.30" stroke="#000" stroke-width="3.7" />
<line x1="1477.55" y1="667.00" x2="1477.55" y2="656.20" stroke="#000" stroke-width="3.7" />
<line x1="1477.55" y1="24.50" x2="1477.55" y2="35.30" stroke="#000" stroke-width="3.7" />
<line x1="1486.90" y1="667.00" x2="1486.90" y2="648.20" stroke="#000" stroke-width="3.7" />
<line x1="1486.90" y1="24.50" x2="1486.90" y2="43.30" stroke="#000" stroke-width="3.7" />
<text transform="translate(1486.60 710.70) scale(1 1.08)" font-size="35.6" text-anchor="middle" >10<tspan font-size="25.6" dy="-20.7">2</tspan></text>
<line x1="1548.43" y1="667.00" x2="1548.43" y2="656.20" stroke="#000" stroke-width="3.7" />
<line x1="1548.43" y1="24.50" x2="1548.43" y2="35.30" stroke="#000" stroke-width="3.7" />
<line x1="1584.42" y1="667.00" x2="1584.42" y2="656.20" stroke="#000" stroke-width="3.7" />
<line x1="1584.42" y1="24.50" x2="1584.42" y2="35.30" stroke="#000" stroke-width="3.7" />
<line x1="1609.96" y1="667.00" x2="1609.96" y2="656.20" stroke="#000" stroke-width="3.7" />
<line x1="1609.96" y1="24.50" x2="1609.96" y2="35.30" stroke="#000" stroke-width="3.7" />
<line x1="1629.77" y1="667.00" x2="1629.77" y2="656.20" stroke="#000" stroke-width="3.7" />
<line x1="1629.77" y1="24.50" x2="1629.77" y2="35.30" stroke="#000" stroke-width="3.7" />
<line x1="1645.95" y1="667.00" x2="1645.95" y2="656.20" stroke="#000" stroke-width="3.7" />
<line x1="1645.95" y1="24.50" x2="1645.95" y2="35.30" stroke="#000" stroke-width="3.7" />
<line x1="1659.64" y1="667.00" x2="1659.64" y2="656.20" stroke="#000" stroke-width="3.7" />
<line x1="1659.64" y1="24.50" x2="1659.64" y2="35.30" stroke="#000" stroke-width="3.7" />
<line x1="1671.49" y1="667.00" x2="1671.49" y2="656.20" stroke="#000" stroke-width="3.7" />
<line x1="1671.49" y1="24.50" x2="1671.49" y2="35.30" stroke="#000" stroke-width="3.7" />
<line x1="1681.95" y1="667.00" x2="1681.95" y2="656.20" stroke="#000" stroke-width="3.7" />
<line x1="1681.95" y1="24.50" x2="1681.95" y2="35.30" stroke="#000" stroke-width="3.7" />
<line x1="1691.30" y1="667.00" x2="1691.30" y2="648.20" stroke="#000" stroke-width="3.7" />
<line x1="1691.30" y1="24.50" x2="1691.30" y2="43.30" stroke="#000" stroke-width="3.7" />
<text transform="translate(1691.00 710.70) scale(1 1.08)" font-size="35.6" text-anchor="middle" >10<tspan font-size="25.6" dy="-20.7">3</tspan></text>
<line x1="1752.83" y1="667.00" x2="1752.83" y2="656.20" stroke="#000" stroke-width="3.7" />
<line x1="1752.83" y1="24.50" x2="1752.83" y2="35.30" stroke="#000" stroke-width="3.7" />
<line x1="1788.82" y1="667.00" x2="1788.82" y2="656.20" stroke="#000" stroke-width="3.7" />
<line x1="1788.82" y1="24.50" x2="1788.82" y2="35.30" stroke="#000" stroke-width="3.7" />
<line x1="1814.36" y1="667.00" x2="1814.36" y2="656.20" stroke="#000" stroke-width="3.7" />
<line x1="1814.36" y1="24.50" x2="1814.36" y2="35.30" stroke="#000" stroke-width="3.7" />
<line x1="1834.17" y1="667.00" x2="1834.17" y2="656.20" stroke="#000" stroke-width="3.7" />
<line x1="1834.17" y1="24.50" x2="1834.17" y2="35.30" stroke="#000" stroke-width="3.7" />
<line x1="1850.35" y1="667.00" x2="1850.35" y2="656.20" stroke="#000" stroke-width="3.7" />
<line x1="1850.35" y1="24.50" x2="1850.35" y2="35.30" stroke="#000" stroke-width="3.7" />
<line x1="1864.04" y1="667.00" x2="1864.04" y2="656.20" stroke="#000" stroke-width="3.7" />
<line x1="1864.04" y1="24.50" x2="1864.04" y2="35.30" stroke="#000" stroke-width="3.7" />
<line x1="1875.89" y1="667.00" x2="1875.89" y2="656.20" stroke="#000" stroke-width="3.7" />
<line x1="1875.89" y1="24.50" x2="1875.89" y2="35.30" stroke="#000" stroke-width="3.7" />
<line x1="1886.35" y1="667.00" x2="1886.35" y2="656.20" stroke="#000" stroke-width="3.7" />
<line x1="1886.35" y1="24.50" x2="1886.35" y2="35.30" stroke="#000" stroke-width="3.7" />
<line x1="1895.70" y1="667.00" x2="1895.70" y2="648.20" stroke="#000" stroke-width="3.7" />
<line x1="1895.70" y1="24.50" x2="1895.70" y2="43.30" stroke="#000" stroke-width="3.7" />
<text transform="translate(1895.40 710.70) scale(1 1.08)" font-size="35.6" text-anchor="middle" >10<tspan font-size="25.6" dy="-20.7">4</tspan></text>
<line x1="1957.23" y1="667.00" x2="1957.23" y2="656.20" stroke="#000" stroke-width="3.7" />
<line x1="1957.23" y1="24.50" x2="1957.23" y2="35.30" stroke="#000" stroke-width="3.7" />
<line x1="1993.22" y1="667.00" x2="1993.22" y2="656.20" stroke="#000" stroke-width="3.7" />
<line x1="1993.22" y1="24.50" x2="1993.22" y2="35.30" stroke="#000" stroke-width="3.7" />
<line x1="2018.76" y1="667.00" x2="2018.76" y2="656.20" stroke="#000" stroke-width="3.7" />
<line x1="2018.76" y1="24.50" x2="2018.76" y2="35.30" stroke="#000" stroke-width="3.7" />
<line x1="2038.57" y1="667.00" x2="2038.57" y2="656.20" stroke="#000" stroke-width="3.7" />
<line x1="2038.57" y1="24.50" x2="2038.57" y2="35.30" stroke="#000" stroke-width="3.7" />
<line x1="1181.80" y1="24.50" x2="1200.60" y2="24.50" stroke="#000" stroke-width="3.7" />
<line x1="2050.20" y1="24.50" x2="2031.40" y2="24.50" stroke="#000" stroke-width="3.7" />
<text transform="translate(1168.30 40.90) scale(1 1.08)" font-size="35.6" text-anchor="end" >10<tspan font-size="25.6" dy="-20.7">−2</tspan></text>
<line x1="1181.80" y1="131.58" x2="1200.60" y2="131.58" stroke="#000" stroke-width="3.7" />
<line x1="2050.20" y1="131.58" x2="2031.40" y2="131.58" stroke="#000" stroke-width="3.7" />
<text transform="translate(1168.30 147.98) scale(1 1.08)" font-size="35.6" text-anchor="end" >10<tspan font-size="25.6" dy="-20.7">−5</tspan></text>
<line x1="1181.80" y1="238.67" x2="1200.60" y2="238.67" stroke="#000" stroke-width="3.7" />
<line x1="2050.20" y1="238.67" x2="2031.40" y2="238.67" stroke="#000" stroke-width="3.7" />
<text transform="translate(1168.30 255.07) scale(1 1.08)" font-size="35.6" text-anchor="end" >10<tspan font-size="25.6" dy="-20.7">−8</tspan></text>
<line x1="1181.80" y1="345.75" x2="1200.60" y2="345.75" stroke="#000" stroke-width="3.7" />
<line x1="2050.20" y1="345.75" x2="2031.40" y2="345.75" stroke="#000" stroke-width="3.7" />
<text transform="translate(1168.30 362.15) scale(1 1.08)" font-size="35.6" text-anchor="end" >10<tspan font-size="25.6" dy="-20.7">−11</tspan></text>
<line x1="1181.80" y1="452.83" x2="1200.60" y2="452.83" stroke="#000" stroke-width="3.7" />
<line x1="2050.20" y1="452.83" x2="2031.40" y2="452.83" stroke="#000" stroke-width="3.7" />
<text transform="translate(1168.30 469.23) scale(1 1.08)" font-size="35.6" text-anchor="end" >10<tspan font-size="25.6" dy="-20.7">−14</tspan></text>
<line x1="1181.80" y1="559.92" x2="1200.60" y2="559.92" stroke="#000" stroke-width="3.7" />
<line x1="2050.20" y1="559.92" x2="2031.40" y2="559.92" stroke="#000" stroke-width="3.7" />
<text transform="translate(1168.30 576.32) scale(1 1.08)" font-size="35.6" text-anchor="end" >10<tspan font-size="25.6" dy="-20.7">−17</tspan></text>
<line x1="1181.80" y1="667.00" x2="1200.60" y2="667.00" stroke="#000" stroke-width="3.7" />
<line x1="2050.20" y1="667.00" x2="2031.40" y2="667.00" stroke="#000" stroke-width="3.7" />
<text transform="translate(1168.30 683.40) scale(1 1.08)" font-size="35.6" text-anchor="end" >10<tspan font-size="25.6" dy="-20.7">−20</tspan></text>
<line x1="1180.10" y1="24.50" x2="2051.40" y2="24.50" stroke="#000" stroke-width="2.3" />
<line x1="1180.10" y1="667.00" x2="2051.40" y2="667.00" stroke="#000" stroke-width="2.3" />
<line x1="1181.50" y1="24.50" x2="1181.50" y2="667.00" stroke="#000" stroke-width="2.8" />
<line x1="2050.20" y1="24.50" x2="2050.20" y2="667.00" stroke="#000" stroke-width="2.6" />
<text transform="translate(1615.70 752.30) scale(1 1.015)" font-size="31.8" text-anchor="middle" >Energy (keV)</text>
<text transform="translate(1069.30 347.25) rotate(-90) scale(1.05 1.0)" font-size="31.8" text-anchor="middle"><tspan font-style="italic">νF</tspan><tspan font-size="22.26" dy="5.09"><tspan font-style="italic">ν</tspan></tspan><tspan font-size="22.26" dy="-5.09">&#8203;</tspan> (erg cm<tspan font-size="22.26" dy="-12.08">−2</tspan><tspan font-size="22.26" dy="12.08">&#8203;</tspan> s<tspan font-size="22.26" dy="-12.08">−1</tspan><tspan font-size="22.26" dy="12.08">&#8203;</tspan>)</text>
<line x1="1825.10" y1="57.40" x2="1882.20" y2="57.40" stroke="#023eff" stroke-width="4.2" />
<text transform="translate(1902.30 67.10) scale(1 1.015)" font-size="26.3" text-anchor="start" >[-18, -8] ms</text>
<line x1="1825.10" y1="94.35" x2="1882.20" y2="94.35" stroke="#ff7c00" stroke-width="4.2" />
<text transform="translate(1902.30 104.05) scale(1 1.015)" font-size="26.3" text-anchor="start" >[-8, 1] ms</text>
<line x1="1825.10" y1="131.30" x2="1882.20" y2="131.30" stroke="#1ac938" stroke-width="4.2" />
<text transform="translate(1902.30 141.00) scale(1 1.015)" font-size="26.3" text-anchor="start" >[1, 12] ms</text>
<line x1="1825.10" y1="168.25" x2="1882.20" y2="168.25" stroke="#e8000b" stroke-width="4.2" />
<text transform="translate(1902.30 177.95) scale(1 1.015)" font-size="26.3" text-anchor="start" >[12, 61] ms</text>
<clipPath id="cRB"><rect x="1181.8" y="826.9" width="868.3999999999999" height="643.5000000000001"/></clipPath>
<clipPath id="cRR"><rect x="1181.8" y="1470.4" width="868.3999999999999" height="160.39999999999986"/></clipPath>
<g clip-path="url(#cRB)" fill="none">
<path d="M1300.7 952.2V1470.4M1264.0 992.1H1337.5M1377.7 975.0V1470.4M1337.5 1012.5H1418.0M1430.6 938.7V979.8M1418.3 955.2H1443.0M1453.7 947.9V991.7M1443.0 965.8H1461.0M1467.2 928.4V988.0M1464.3 950.2H1470.4M1483.1 984.4V1035.2M1470.7 1003.7H1495.3M1498.3 929.5V977.7M1495.8 948.6H1501.4M1510.0 991.0V1043.3M1501.9 1010.6H1518.4M1521.2 956.5V1018.4M1518.4 978.0H1525.5M1529.8 973.8V1019.4M1525.5 985.9H1534.5M1541.0 973.8V1016.4M1535.9 991.0H1546.5M1549.0 971.2V1033.6M1546.5 991.0H1551.5M1556.8 1006.7V1066.1M1552.2 1029.0H1563.4M1574.0 1037.2V1082.3M1562.3 1055.1H1585.7M1587.0 974.2V1049.8M1585.7 999.6H1588.5M1597.4 1050.4V1100.6M1588.5 1069.4H1606.5M1617.9 1076.8V1130.5M1606.5 1097.1H1628.8M1630.6 998.1V1073.7M1628.8 1024.0H1631.7M1642.7 1097.6V1152.9M1631.7 1119.1H1653.8M1671.9 1156.2V1470.4M1654.3 1194.2H1689.9" stroke="#023eff" stroke-width="2.0"/>
<path d="M1300.7 986.5 L1377.7 966.4 L1430.6 967.8 L1453.7 965.9 L1467.2 965.5 L1483.1 966.6 L1498.3 968.8 L1510.0 971.3 L1521.2 975.0 L1529.8 980.3 L1541.0 990.0 L1549.0 1000.2 L1556.8 1011.8 L1574.0 1035.5 L1587.0 1053.5 L1597.4 1071.0 L1617.9 1106.0 L1630.6 1129.0 L1642.7 1152.5 L1671.9 1216.8" stroke="#023eff" stroke-width="2.8" stroke-linejoin="round"/>
<path d="M1299.6 1032.1V1470.4M1377.2 956.5V1051.5M1336.4 985.1H1418.0M1436.6 964.1V1008.2M1418.3 981.0H1455.2M1460.9 907.4V941.2M1455.3 921.1H1466.2M1469.3 913.5V960.4M1466.2 932.0H1473.2M1474.5 899.1V956.6M1473.2 920.2H1475.9M1479.4 929.8V985.4M1476.0 950.5H1482.4M1485.3 933.3V990.5M1482.4 954.3H1488.8M1494.3 936.1V971.2M1488.8 950.7H1500.3M1503.0 948.3V1011.3M1500.3 969.7H1506.0M1507.6 901.0V950.8M1506.3 920.2H1508.9M1510.5 923.4V990.0M1508.9 947.0H1512.0M1516.0 969.2V1028.6M1512.0 991.5H1520.0M1521.5 925.3V990.0M1520.2 948.3H1522.8M1525.8 959.4V1020.4M1523.5 980.8H1528.5M1531.8 964.2V1020.0M1528.5 982.9H1536.5M1542.2 985.0V1041.2M1536.5 1000.0H1547.0M1550.7 972.2V1034.1M1547.5 994.9H1553.2M1558.3 1008.2V1067.1M1553.2 1029.8H1563.4M1567.7 1004.2V1066.6M1563.4 1027.0H1572.0M1583.7 1041.2V1084.4M1572.0 1058.5H1595.3M1608.8 1126.1V1470.4M1595.6 1163.0H1621.8M1634.5 1124.2V1229.5M1622.0 1154.0H1647.7M1667.8 1160.1V1247.7M1647.1 1187.6H1688.5" stroke="#ff7c00" stroke-width="2.0"/>
<path d="M1298.8 984.1 L1377.2 964.0 L1436.7 965.1 L1460.8 963.8 L1469.4 963.6 L1474.4 963.8 L1479.3 964.3 L1485.3 965.2 L1494.3 966.6 L1502.9 968.0 L1507.6 969.0 L1510.5 969.6 L1516.0 970.9 L1521.5 973.5 L1525.8 976.0 L1531.8 980.2 L1542.2 989.8 L1550.6 1000.6 L1558.4 1012.4 L1567.7 1025.3 L1583.7 1047.0 L1608.8 1090.0 L1634.5 1135.0 L1667.8 1205.8" stroke="#ff7c00" stroke-width="2.8" stroke-linejoin="round"/>
<path d="M1304.6 939.3V1002.6M1268.5 962.1H1340.7M1379.0 951.3V1012.1M1340.7 973.3H1417.2M1435.8 972.4V1026.6M1417.3 993.0H1453.7M1460.8 949.7V1004.7M1454.1 970.2H1467.8M1475.8 960.4V1009.3M1467.8 980.3H1483.0M1490.0 962.4V1014.8M1483.0 980.8H1496.1M1502.2 961.0V1009.3M1496.1 979.9H1507.6M1515.1 974.7V1019.9M1508.5 992.3H1521.7M1523.7 928.2V991.0M1522.3 950.8H1525.0M1527.8 952.0V1005.2M1525.2 972.2H1530.6M1533.2 964.2V1028.6M1530.6 985.9H1536.0M1541.5 987.6V1040.9M1536.4 1007.9H1547.1M1557.9 1018.6V1063.4M1547.1 1036.2H1568.9M1572.3 989.4V1035.1M1568.7 1008.0H1575.8M1589.0 1121.3V1470.4M1576.1 1169.2H1602.0M1614.3 1111.7V1221.8M1602.0 1142.1H1626.7M1639.1 1225.0V1470.4" stroke="#1ac938" stroke-width="2.0"/>
<path d="M1303.7 1011.5 L1379.1 988.7 L1435.7 986.8 L1460.8 980.6 L1475.8 979.8 L1490.0 980.6 L1502.2 982.3 L1515.1 988.0 L1523.7 991.5 L1527.8 993.5 L1533.2 996.2 L1541.5 1004.0 L1557.9 1021.8 L1572.3 1040.8 L1589.0 1063.5 L1614.3 1106.5 L1639.1 1150.0 L1669.5 1216.5" stroke="#1ac938" stroke-width="2.8" stroke-linejoin="round"/>
<path d="M1592.5 986.4V1028.5M1588.2 1003.7H1596.9M1601.4 977.3V1014.3M1597.4 992.7H1605.5M1609.5 980.3V1018.7M1605.8 995.7H1613.1M1617.2 977.3V1013.3M1613.6 992.7H1620.7M1630.6 1027.0V1064.6M1620.2 1042.0H1638.0M1643.8 1014.3V1064.6M1640.5 1033.3H1647.6M1650.9 1012.3V1056.4M1648.1 1030.1H1653.7M1657.0 1011.3V1057.0M1654.2 1029.2H1659.8M1667.9 1059.5V1107.2M1659.8 1078.3H1675.5M1697.5 1139.7V1309.7M1675.6 1174.3H1719.0M1736.9 1301.6V1470.4M1770.1 1186.3V1470.4M1754.9 1226.6H1785.8M1799.8 1277.5V1470.4M1827.7 1346.0V1470.4M1880.4 1355.9V1470.4M1982.3 1379.0V1470.4M1954.9 1411.2H2010.7" stroke="#e8000b" stroke-width="2.0"/>
<path d="M1592.5 996.8 L1601.4 1003.0 L1609.5 1009.3 L1617.2 1015.5 L1630.6 1029.0 L1643.8 1045.3 L1650.9 1055.0 L1657.0 1064.0 L1667.9 1081.8 L1697.5 1150.0 L1736.9 1290.0 L1770.1 1475.0" stroke="#e8000b" stroke-width="2.8" stroke-linejoin="round"/>
</g>
<line x1="1181.80" y1="1550.50" x2="2050.20" y2="1550.50" stroke="#808080" stroke-width="2.6" stroke-dasharray="9.6 4.2"/>
<g clip-path="url(#cRR)" fill="none">
<path d="M1292.4 1553.8h16M1300.4 1545.8v16M1369.6 1589.1h16M1377.6 1581.1v16M1422.5 1532.4h16M1430.5 1524.4v16M1445.5 1550.8h16M1453.5 1542.8v16M1459.2 1535.3h16M1467.2 1527.3v16M1475.2 1622.5h16M1483.2 1614.5v16M1490.2 1526.8h16M1498.2 1518.8v16M1501.8 1625.4h16M1509.8 1617.4v16M1513.2 1553.8h16M1521.2 1545.8v16M1521.6 1567.0h16M1529.6 1559.0v16M1533.0 1549.3h16M1541.0 1541.3v16M1540.8 1542.7h16M1548.8 1534.7v16M1548.8 1572.0h16M1556.8 1564.0v16M1566.0 1582.3h16M1574.0 1574.3v16M1579.2 1515.6h16M1587.2 1507.6v16M1589.3 1546.2h16M1597.3 1538.2v16M1609.7 1540.1h16M1617.7 1532.1v16M1622.4 1505.3h16M1630.4 1497.3v16M1634.6 1520.8h16M1642.6 1512.8v16M1663.8 1539.9h16M1671.8 1531.9v16" stroke="#023eff" stroke-width="2.4"/>
<path d="M1291.5 1605.8h16M1299.5 1597.8v16M1369.1 1571.9h16M1377.1 1563.9v16M1428.6 1578.4h16M1436.6 1570.4v16M1452.8 1493.7h16M1460.8 1485.7v16M1461.3 1515.3h16M1469.3 1507.3v16M1466.3 1514.2h16M1474.3 1506.2v16M1471.3 1535.2h16M1479.3 1527.2v16M1477.4 1538.3h16M1485.4 1530.3v16M1486.3 1525.2h16M1494.3 1517.2v16M1494.9 1554.3h16M1502.9 1546.3v16M1499.5 1506.3h16M1507.5 1498.3v16M1502.3 1530.0h16M1510.3 1522.0v16M1507.9 1577.4h16M1515.9 1569.4v16M1513.2 1526.9h16M1521.2 1518.9v16M1517.8 1555.4h16M1525.8 1547.4v16M1523.9 1551.3h16M1531.9 1543.3v16M1534.3 1574.3h16M1542.3 1566.3v16M1542.4 1542.4h16M1550.4 1534.4v16M1549.8 1572.8h16M1557.8 1564.8v16M1559.7 1549.1h16M1567.7 1541.1v16M1575.7 1563.3h16M1583.7 1555.3v16M1626.5 1568.6h16M1634.5 1560.6v16M1659.7 1536.6h16M1667.7 1528.6v16" stroke="#ff7c00" stroke-width="2.4"/>
<path d="M1296.7 1514.3h16M1304.7 1506.3v16M1370.9 1534.5h16M1378.9 1526.5v16M1427.5 1559.4h16M1435.5 1551.4v16M1452.8 1537.8h16M1460.8 1529.8v16M1467.7 1548.0h16M1475.7 1540.0v16M1481.8 1551.3h16M1489.8 1543.3v16M1494.1 1545.7h16M1502.1 1537.7v16M1506.9 1559.4h16M1514.9 1551.4v16M1515.5 1520.3h16M1523.5 1512.3v16M1519.8 1527.9h16M1527.8 1519.9v16M1525.4 1540.8h16M1533.4 1532.8v16M1533.5 1554.8h16M1541.5 1546.8v16M1549.8 1572.6h16M1557.8 1564.6v16M1564.0 1514.7h16M1572.0 1506.7v16M1606.2 1591.4h16M1614.2 1583.4v16" stroke="#1ac938" stroke-width="2.4"/>
<path d="M1584.4 1561.2h16M1592.4 1553.2v16M1593.8 1531.8h16M1601.8 1523.8v16M1601.6 1528.1h16M1609.6 1520.1v16M1608.9 1513.5h16M1616.9 1505.5v16M1622.6 1571.4h16M1630.6 1563.4v16M1635.9 1533.3h16M1643.9 1525.3v16M1642.5 1520.1h16M1650.5 1512.1v16M1648.8 1510.5h16M1656.8 1502.5v16M1659.7 1540.6h16M1667.7 1532.6v16M1689.3 1570.5h16M1697.3 1562.5v16M1728.9 1583.5h16M1736.9 1575.5v16M1762.1 1522.7h16M1770.1 1514.7v16M1791.8 1558.9h16M1799.8 1550.9v16M1819.7 1567.1h16M1827.7 1559.1v16M1872.4 1550.3h16M1880.4 1542.3v16M1974.3 1512.0h16M1982.3 1504.0v16" stroke="#e8000b" stroke-width="2.4"/>
</g>
<line x1="1201.16" y1="826.90" x2="1201.16" y2="837.70" stroke="#000" stroke-width="3.7" />
<line x1="1201.16" y1="1470.40" x2="1201.16" y2="1459.60" stroke="#000" stroke-width="3.7" />
<line x1="1201.16" y1="1630.80" x2="1201.16" y2="1620.00" stroke="#000" stroke-width="3.7" />
<line x1="1220.97" y1="826.90" x2="1220.97" y2="837.70" stroke="#000" stroke-width="3.7" />
<line x1="1220.97" y1="1470.40" x2="1220.97" y2="1459.60" stroke="#000" stroke-width="3.7" />
<line x1="1220.97" y1="1630.80" x2="1220.97" y2="1620.00" stroke="#000" stroke-width="3.7" />
<line x1="1237.15" y1="826.90" x2="1237.15" y2="837.70" stroke="#000" stroke-width="3.7" />
<line x1="1237.15" y1="1470.40" x2="1237.15" y2="1459.60" stroke="#000" stroke-width="3.7" />
<line x1="1237.15" y1="1630.80" x2="1237.15" y2="1620.00" stroke="#000" stroke-width="3.7" />
<line x1="1250.84" y1="826.90" x2="1250.84" y2="837.70" stroke="#000" stroke-width="3.7" />
<line x1="1250.84" y1="1470.40" x2="1250.84" y2="1459.60" stroke="#000" stroke-width="3.7" />
<line x1="1250.84" y1="1630.80" x2="1250.84" y2="1620.00" stroke="#000" stroke-width="3.7" />
<line x1="1262.69" y1="826.90" x2="1262.69" y2="837.70" stroke="#000" stroke-width="3.7" />
<line x1="1262.69" y1="1470.40" x2="1262.69" y2="1459.60" stroke="#000" stroke-width="3.7" />
<line x1="1262.69" y1="1630.80" x2="1262.69" y2="1620.00" stroke="#000" stroke-width="3.7" />
<line x1="1273.15" y1="826.90" x2="1273.15" y2="837.70" stroke="#000" stroke-width="3.7" />
<line x1="1273.15" y1="1470.40" x2="1273.15" y2="1459.60" stroke="#000" stroke-width="3.7" />
<line x1="1273.15" y1="1630.80" x2="1273.15" y2="1620.00" stroke="#000" stroke-width="3.7" />
<line x1="1282.50" y1="826.90" x2="1282.50" y2="845.70" stroke="#000" stroke-width="3.7" />
<line x1="1282.50" y1="1470.40" x2="1282.50" y2="1451.60" stroke="#000" stroke-width="3.7" />
<line x1="1282.50" y1="1630.80" x2="1282.50" y2="1612.00" stroke="#000" stroke-width="3.7" />
<text transform="translate(1282.20 1674.40) scale(1 1.08)" font-size="35.6" text-anchor="middle" >10<tspan font-size="25.6" dy="-20.7">1</tspan></text>
<line x1="1344.03" y1="826.90" x2="1344.03" y2="837.70" stroke="#000" stroke-width="3.7" />
<line x1="1344.03" y1="1470.40" x2="1344.03" y2="1459.60" stroke="#000" stroke-width="3.7" />
<line x1="1344.03" y1="1630.80" x2="1344.03" y2="1620.00" stroke="#000" stroke-width="3.7" />
<line x1="1380.02" y1="826.90" x2="1380.02" y2="837.70" stroke="#000" stroke-width="3.7" />
<line x1="1380.02" y1="1470.40" x2="1380.02" y2="1459.60" stroke="#000" stroke-width="3.7" />
<line x1="1380.02" y1="1630.80" x2="1380.02" y2="1620.00" stroke="#000" stroke-width="3.7" />
<line x1="1405.56" y1="826.90" x2="1405.56" y2="837.70" stroke="#000" stroke-width="3.7" />
<line x1="1405.56" y1="1470.40" x2="1405.56" y2="1459.60" stroke="#000" stroke-width="3.7" />
<line x1="1405.56" y1="1630.80" x2="1405.56" y2="1620.00" stroke="#000" stroke-width="3.7" />
<line x1="1425.37" y1="826.90" x2="1425.37" y2="837.70" stroke="#000" stroke-width="3.7" />
<line x1="1425.37" y1="1470.40" x2="1425.37" y2="1459.60" stroke="#000" stroke-width="3.7" />
<line x1="1425.37" y1="1630.80" x2="1425.37" y2="1620.00" stroke="#000" stroke-width="3.7" />
<line x1="1441.55" y1="826.90" x2="1441.55" y2="837.70" stroke="#000" stroke-width="3.7" />
<line x1="1441.55" y1="1470.40" x2="1441.55" y2="1459.60" stroke="#000" stroke-width="3.7" />
<line x1="1441.55" y1="1630.80" x2="1441.55" y2="1620.00" stroke="#000" stroke-width="3.7" />
<line x1="1455.24" y1="826.90" x2="1455.24" y2="837.70" stroke="#000" stroke-width="3.7" />
<line x1="1455.24" y1="1470.40" x2="1455.24" y2="1459.60" stroke="#000" stroke-width="3.7" />
<line x1="1455.24" y1="1630.80" x2="1455.24" y2="1620.00" stroke="#000" stroke-width="3.7" />
<line x1="1467.09" y1="826.90" x2="1467.09" y2="837.70" stroke="#000" stroke-width="3.7" />
<line x1="1467.09" y1="1470.40" x2="1467.09" y2="1459.60" stroke="#000" stroke-width="3.7" />
<line x1="1467.09" y1="1630.80" x2="1467.09" y2="1620.00" stroke="#000" stroke-width="3.7" />
<line x1="1477.55" y1="826.90" x2="1477.55" y2="837.70" stroke="#000" stroke-width="3.7" />
<line x1="1477.55" y1="1470.40" x2="1477.55" y2="1459.60" stroke="#000" stroke-width="3.7" />
<line x1="1477.55" y1="1630.80" x2="1477.55" y2="1620.00" stroke="#000" stroke-width="3.7" />
<line x1="1486.90" y1="826.90" x2="1486.90" y2="845.70" stroke="#000" stroke-width="3.7" />
<line x1="1486.90" y1="1470.40" x2="1486.90" y2="1451.60" stroke="#000" stroke-width="3.7" />
<line x1="1486.90" y1="1630.80" x2="1486.90" y2="1612.00" stroke="#000" stroke-width="3.7" />
<text transform="translate(1486.60 1674.40) scale(1 1.08)" font-size="35.6" text-anchor="middle" >10<tspan font-size="25.6" dy="-20.7">2</tspan></text>
<line x1="1548.43" y1="826.90" x2="1548.43" y2="837.70" stroke="#000" stroke-width="3.7" />
<line x1="1548.43" y1="1470.40" x2="1548.43" y2="1459.60" stroke="#000" stroke-width="3.7" />
<line x1="1548.43" y1="1630.80" x2="1548.43" y2="1620.00" stroke="#000" stroke-width="3.7" />
<line x1="1584.42" y1="826.90" x2="1584.42" y2="837.70" stroke="#000" stroke-width="3.7" />
<line x1="1584.42" y1="1470.40" x2="1584.42" y2="1459.60" stroke="#000" stroke-width="3.7" />
<line x1="1584.42" y1="1630.80" x2="1584.42" y2="1620.00" stroke="#000" stroke-width="3.7" />
<line x1="1609.96" y1="826.90" x2="1609.96" y2="837.70" stroke="#000" stroke-width="3.7" />
<line x1="1609.96" y1="1470.40" x2="1609.96" y2="1459.60" stroke="#000" stroke-width="3.7" />
<line x1="1609.96" y1="1630.80" x2="1609.96" y2="1620.00" stroke="#000" stroke-width="3.7" />
<line x1="1629.77" y1="826.90" x2="1629.77" y2="837.70" stroke="#000" stroke-width="3.7" />
<line x1="1629.77" y1="1470.40" x2="1629.77" y2="1459.60" stroke="#000" stroke-width="3.7" />
<line x1="1629.77" y1="1630.80" x2="1629.77" y2="1620.00" stroke="#000" stroke-width="3.7" />
<line x1="1645.95" y1="826.90" x2="1645.95" y2="837.70" stroke="#000" stroke-width="3.7" />
<line x1="1645.95" y1="1470.40" x2="1645.95" y2="1459.60" stroke="#000" stroke-width="3.7" />
<line x1="1645.95" y1="1630.80" x2="1645.95" y2="1620.00" stroke="#000" stroke-width="3.7" />
<line x1="1659.64" y1="826.90" x2="1659.64" y2="837.70" stroke="#000" stroke-width="3.7" />
<line x1="1659.64" y1="1470.40" x2="1659.64" y2="1459.60" stroke="#000" stroke-width="3.7" />
<line x1="1659.64" y1="1630.80" x2="1659.64" y2="1620.00" stroke="#000" stroke-width="3.7" />
<line x1="1671.49" y1="826.90" x2="1671.49" y2="837.70" stroke="#000" stroke-width="3.7" />
<line x1="1671.49" y1="1470.40" x2="1671.49" y2="1459.60" stroke="#000" stroke-width="3.7" />
<line x1="1671.49" y1="1630.80" x2="1671.49" y2="1620.00" stroke="#000" stroke-width="3.7" />
<line x1="1681.95" y1="826.90" x2="1681.95" y2="837.70" stroke="#000" stroke-width="3.7" />
<line x1="1681.95" y1="1470.40" x2="1681.95" y2="1459.60" stroke="#000" stroke-width="3.7" />
<line x1="1681.95" y1="1630.80" x2="1681.95" y2="1620.00" stroke="#000" stroke-width="3.7" />
<line x1="1691.30" y1="826.90" x2="1691.30" y2="845.70" stroke="#000" stroke-width="3.7" />
<line x1="1691.30" y1="1470.40" x2="1691.30" y2="1451.60" stroke="#000" stroke-width="3.7" />
<line x1="1691.30" y1="1630.80" x2="1691.30" y2="1612.00" stroke="#000" stroke-width="3.7" />
<text transform="translate(1691.00 1674.40) scale(1 1.08)" font-size="35.6" text-anchor="middle" >10<tspan font-size="25.6" dy="-20.7">3</tspan></text>
<line x1="1752.83" y1="826.90" x2="1752.83" y2="837.70" stroke="#000" stroke-width="3.7" />
<line x1="1752.83" y1="1470.40" x2="1752.83" y2="1459.60" stroke="#000" stroke-width="3.7" />
<line x1="1752.83" y1="1630.80" x2="1752.83" y2="1620.00" stroke="#000" stroke-width="3.7" />
<line x1="1788.82" y1="826.90" x2="1788.82" y2="837.70" stroke="#000" stroke-width="3.7" />
<line x1="1788.82" y1="1470.40" x2="1788.82" y2="1459.60" stroke="#000" stroke-width="3.7" />
<line x1="1788.82" y1="1630.80" x2="1788.82" y2="1620.00" stroke="#000" stroke-width="3.7" />
<line x1="1814.36" y1="826.90" x2="1814.36" y2="837.70" stroke="#000" stroke-width="3.7" />
<line x1="1814.36" y1="1470.40" x2="1814.36" y2="1459.60" stroke="#000" stroke-width="3.7" />
<line x1="1814.36" y1="1630.80" x2="1814.36" y2="1620.00" stroke="#000" stroke-width="3.7" />
<line x1="1834.17" y1="826.90" x2="1834.17" y2="837.70" stroke="#000" stroke-width="3.7" />
<line x1="1834.17" y1="1470.40" x2="1834.17" y2="1459.60" stroke="#000" stroke-width="3.7" />
<line x1="1834.17" y1="1630.80" x2="1834.17" y2="1620.00" stroke="#000" stroke-width="3.7" />
<line x1="1850.35" y1="826.90" x2="1850.35" y2="837.70" stroke="#000" stroke-width="3.7" />
<line x1="1850.35" y1="1470.40" x2="1850.35" y2="1459.60" stroke="#000" stroke-width="3.7" />
<line x1="1850.35" y1="1630.80" x2="1850.35" y2="1620.00" stroke="#000" stroke-width="3.7" />
<line x1="1864.04" y1="826.90" x2="1864.04" y2="837.70" stroke="#000" stroke-width="3.7" />
<line x1="1864.04" y1="1470.40" x2="1864.04" y2="1459.60" stroke="#000" stroke-width="3.7" />
<line x1="1864.04" y1="1630.80" x2="1864.04" y2="1620.00" stroke="#000" stroke-width="3.7" />
<line x1="1875.89" y1="826.90" x2="1875.89" y2="837.70" stroke="#000" stroke-width="3.7" />
<line x1="1875.89" y1="1470.40" x2="1875.89" y2="1459.60" stroke="#000" stroke-width="3.7" />
<line x1="1875.89" y1="1630.80" x2="1875.89" y2="1620.00" stroke="#000" stroke-width="3.7" />
<line x1="1886.35" y1="826.90" x2="1886.35" y2="837.70" stroke="#000" stroke-width="3.7" />
<line x1="1886.35" y1="1470.40" x2="1886.35" y2="1459.60" stroke="#000" stroke-width="3.7" />
<line x1="1886.35" y1="1630.80" x2="1886.35" y2="1620.00" stroke="#000" stroke-width="3.7" />
<line x1="1895.70" y1="826.90" x2="1895.70" y2="845.70" stroke="#000" stroke-width="3.7" />
<line x1="1895.70" y1="1470.40" x2="1895.70" y2="1451.60" stroke="#000" stroke-width="3.7" />
<line x1="1895.70" y1="1630.80" x2="1895.70" y2="1612.00" stroke="#000" stroke-width="3.7" />
<text transform="translate(1895.40 1674.40) scale(1 1.08)" font-size="35.6" text-anchor="middle" >10<tspan font-size="25.6" dy="-20.7">4</tspan></text>
<line x1="1957.23" y1="826.90" x2="1957.23" y2="837.70" stroke="#000" stroke-width="3.7" />
<line x1="1957.23" y1="1470.40" x2="1957.23" y2="1459.60" stroke="#000" stroke-width="3.7" />
<line x1="1957.23" y1="1630.80" x2="1957.23" y2="1620.00" stroke="#000" stroke-width="3.7" />
<line x1="1993.22" y1="826.90" x2="1993.22" y2="837.70" stroke="#000" stroke-width="3.7" />
<line x1="1993.22" y1="1470.40" x2="1993.22" y2="1459.60" stroke="#000" stroke-width="3.7" />
<line x1="1993.22" y1="1630.80" x2="1993.22" y2="1620.00" stroke="#000" stroke-width="3.7" />
<line x1="2018.76" y1="826.90" x2="2018.76" y2="837.70" stroke="#000" stroke-width="3.7" />
<line x1="2018.76" y1="1470.40" x2="2018.76" y2="1459.60" stroke="#000" stroke-width="3.7" />
<line x1="2018.76" y1="1630.80" x2="2018.76" y2="1620.00" stroke="#000" stroke-width="3.7" />
<line x1="2038.57" y1="826.90" x2="2038.57" y2="837.70" stroke="#000" stroke-width="3.7" />
<line x1="2038.57" y1="1470.40" x2="2038.57" y2="1459.60" stroke="#000" stroke-width="3.7" />
<line x1="2038.57" y1="1630.80" x2="2038.57" y2="1620.00" stroke="#000" stroke-width="3.7" />
<line x1="1181.80" y1="1470.65" x2="1192.60" y2="1470.65" stroke="#000" stroke-width="3.7" />
<line x1="2050.20" y1="1470.65" x2="2039.40" y2="1470.65" stroke="#000" stroke-width="3.7" />
<line x1="1181.80" y1="1462.40" x2="1192.60" y2="1462.40" stroke="#000" stroke-width="3.7" />
<line x1="2050.20" y1="1462.40" x2="2039.40" y2="1462.40" stroke="#000" stroke-width="3.7" />
<line x1="1181.80" y1="1455.25" x2="1192.60" y2="1455.25" stroke="#000" stroke-width="3.7" />
<line x1="2050.20" y1="1455.25" x2="2039.40" y2="1455.25" stroke="#000" stroke-width="3.7" />
<line x1="1181.80" y1="1448.94" x2="1192.60" y2="1448.94" stroke="#000" stroke-width="3.7" />
<line x1="2050.20" y1="1448.94" x2="2039.40" y2="1448.94" stroke="#000" stroke-width="3.7" />
<line x1="1181.80" y1="1443.30" x2="1200.60" y2="1443.30" stroke="#000" stroke-width="3.7" />
<line x1="2050.20" y1="1443.30" x2="2031.40" y2="1443.30" stroke="#000" stroke-width="3.7" />
<text transform="translate(1168.30 1459.70) scale(1 1.08)" font-size="35.6" text-anchor="end" >10<tspan font-size="25.6" dy="-20.7">−3</tspan></text>
<line x1="1181.80" y1="1406.18" x2="1192.60" y2="1406.18" stroke="#000" stroke-width="3.7" />
<line x1="2050.20" y1="1406.18" x2="2039.40" y2="1406.18" stroke="#000" stroke-width="3.7" />
<line x1="1181.80" y1="1384.47" x2="1192.60" y2="1384.47" stroke="#000" stroke-width="3.7" />
<line x1="2050.20" y1="1384.47" x2="2039.40" y2="1384.47" stroke="#000" stroke-width="3.7" />
<line x1="1181.80" y1="1369.07" x2="1192.60" y2="1369.07" stroke="#000" stroke-width="3.7" />
<line x1="2050.20" y1="1369.07" x2="2039.40" y2="1369.07" stroke="#000" stroke-width="3.7" />
<line x1="1181.80" y1="1357.12" x2="1192.60" y2="1357.12" stroke="#000" stroke-width="3.7" />
<line x1="2050.20" y1="1357.12" x2="2039.40" y2="1357.12" stroke="#000" stroke-width="3.7" />
<line x1="1181.80" y1="1347.35" x2="1192.60" y2="1347.35" stroke="#000" stroke-width="3.7" />
<line x1="2050.20" y1="1347.35" x2="2039.40" y2="1347.35" stroke="#000" stroke-width="3.7" />
<line x1="1181.80" y1="1339.10" x2="1192.60" y2="1339.10" stroke="#000" stroke-width="3.7" />
<line x1="2050.20" y1="1339.10" x2="2039.40" y2="1339.10" stroke="#000" stroke-width="3.7" />
<line x1="1181.80" y1="1331.95" x2="1192.60" y2="1331.95" stroke="#000" stroke-width="3.7" />
<line x1="2050.20" y1="1331.95" x2="2039.40" y2="1331.95" stroke="#000" stroke-width="3.7" />
<line x1="1181.80" y1="1325.64" x2="1192.60" y2="1325.64" stroke="#000" stroke-width="3.7" />
<line x1="2050.20" y1="1325.64" x2="2039.40" y2="1325.64" stroke="#000" stroke-width="3.7" />
<line x1="1181.80" y1="1320.00" x2="1200.60" y2="1320.00" stroke="#000" stroke-width="3.7" />
<line x1="2050.20" y1="1320.00" x2="2031.40" y2="1320.00" stroke="#000" stroke-width="3.7" />
<text transform="translate(1168.30 1336.40) scale(1 1.08)" font-size="35.6" text-anchor="end" >10<tspan font-size="25.6" dy="-20.7">−2</tspan></text>
<line x1="1181.80" y1="1282.88" x2="1192.60" y2="1282.88" stroke="#000" stroke-width="3.7" />
<line x1="2050.20" y1="1282.88" x2="2039.40" y2="1282.88" stroke="#000" stroke-width="3.7" />
<line x1="1181.80" y1="1261.17" x2="1192.60" y2="1261.17" stroke="#000" stroke-width="3.7" />
<line x1="2050.20" y1="1261.17" x2="2039.40" y2="1261.17" stroke="#000" stroke-width="3.7" />
<line x1="1181.80" y1="1245.77" x2="1192.60" y2="1245.77" stroke="#000" stroke-width="3.7" />
<line x1="2050.20" y1="1245.77" x2="2039.40" y2="1245.77" stroke="#000" stroke-width="3.7" />
<line x1="1181.80" y1="1233.82" x2="1192.60" y2="1233.82" stroke="#000" stroke-width="3.7" />
<line x1="2050.20" y1="1233.82" x2="2039.40" y2="1233.82" stroke="#000" stroke-width="3.7" />
<line x1="1181.80" y1="1224.05" x2="1192.60" y2="1224.05" stroke="#000" stroke-width="3.7" />
<line x1="2050.20" y1="1224.05" x2="2039.40" y2="1224.05" stroke="#000" stroke-width="3.7" />
<line x1="1181.80" y1="1215.80" x2="1192.60" y2="1215.80" stroke="#000" stroke-width="3.7" />
<line x1="2050.20" y1="1215.80" x2="2039.40" y2="1215.80" stroke="#000" stroke-width="3.7" />
<line x1="1181.80" y1="1208.65" x2="1192.60" y2="1208.65" stroke="#000" stroke-width="3.7" />
<line x1="2050.20" y1="1208.65" x2="2039.40" y2="1208.65" stroke="#000" stroke-width="3.7" />
<line x1="1181.80" y1="1202.34" x2="1192.60" y2="1202.34" stroke="#000" stroke-width="3.7" />
<line x1="2050.20" y1="1202.34" x2="2039.40" y2="1202.34" stroke="#000" stroke-width="3.7" />
<line x1="1181.80" y1="1196.70" x2="1200.60" y2="1196.70" stroke="#000" stroke-width="3.7" />
<line x1="2050.20" y1="1196.70" x2="2031.40" y2="1196.70" stroke="#000" stroke-width="3.7" />
<text transform="translate(1168.30 1213.10) scale(1 1.08)" font-size="35.6" text-anchor="end" >10<tspan font-size="25.6" dy="-20.7">−1</tspan></text>
<line x1="1181.80" y1="1159.58" x2="1192.60" y2="1159.58" stroke="#000" stroke-width="3.7" />
<line x1="2050.20" y1="1159.58" x2="2039.40" y2="1159.58" stroke="#000" stroke-width="3.7" />
<line x1="1181.80" y1="1137.87" x2="1192.60" y2="1137.87" stroke="#000" stroke-width="3.7" />
<line x1="2050.20" y1="1137.87" x2="2039.40" y2="1137.87" stroke="#000" stroke-width="3.7" />
<line x1="1181.80" y1="1122.47" x2="1192.60" y2="1122.47" stroke="#000" stroke-width="3.7" />
<line x1="2050.20" y1="1122.47" x2="2039.40" y2="1122.47" stroke="#000" stroke-width="3.7" />
<line x1="1181.80" y1="1110.52" x2="1192.60" y2="1110.52" stroke="#000" stroke-width="3.7" />
<line x1="2050.20" y1="1110.52" x2="2039.40" y2="1110.52" stroke="#000" stroke-width="3.7" />
<line x1="1181.80" y1="1100.75" x2="1192.60" y2="1100.75" stroke="#000" stroke-width="3.7" />
<line x1="2050.20" y1="1100.75" x2="2039.40" y2="1100.75" stroke="#000" stroke-width="3.7" />
<line x1="1181.80" y1="1092.50" x2="1192.60" y2="1092.50" stroke="#000" stroke-width="3.7" />
<line x1="2050.20" y1="1092.50" x2="2039.40" y2="1092.50" stroke="#000" stroke-width="3.7" />
<line x1="1181.80" y1="1085.35" x2="1192.60" y2="1085.35" stroke="#000" stroke-width="3.7" />
<line x1="2050.20" y1="1085.35" x2="2039.40" y2="1085.35" stroke="#000" stroke-width="3.7" />
<line x1="1181.80" y1="1079.04" x2="1192.60" y2="1079.04" stroke="#000" stroke-width="3.7" />
<line x1="2050.20" y1="1079.04" x2="2039.40" y2="1079.04" stroke="#000" stroke-width="3.7" />
<line x1="1181.80" y1="1073.40" x2="1200.60" y2="1073.40" stroke="#000" stroke-width="3.7" />
<line x1="2050.20" y1="1073.40" x2="2031.40" y2="1073.40" stroke="#000" stroke-width="3.7" />
<text transform="translate(1168.30 1089.80) scale(1 1.08)" font-size="35.6" text-anchor="end" >10<tspan font-size="25.6" dy="-20.7">0</tspan></text>
<line x1="1181.80" y1="1036.28" x2="1192.60" y2="1036.28" stroke="#000" stroke-width="3.7" />
<line x1="2050.20" y1="1036.28" x2="2039.40" y2="1036.28" stroke="#000" stroke-width="3.7" />
<line x1="1181.80" y1="1014.57" x2="1192.60" y2="1014.57" stroke="#000" stroke-width="3.7" />
<line x1="2050.20" y1="1014.57" x2="2039.40" y2="1014.57" stroke="#000" stroke-width="3.7" />
<line x1="1181.80" y1="999.17" x2="1192.60" y2="999.17" stroke="#000" stroke-width="3.7" />
<line x1="2050.20" y1="999.17" x2="2039.40" y2="999.17" stroke="#000" stroke-width="3.7" />
<line x1="1181.80" y1="987.22" x2="1192.60" y2="987.22" stroke="#000" stroke-width="3.7" />
<line x1="2050.20" y1="987.22" x2="2039.40" y2="987.22" stroke="#000" stroke-width="3.7" />
<line x1="1181.80" y1="977.45" x2="1192.60" y2="977.45" stroke="#000" stroke-width="3.7" />
<line x1="2050.20" y1="977.45" x2="2039.40" y2="977.45" stroke="#000" stroke-width="3.7" />
<line x1="1181.80" y1="969.20" x2="1192.60" y2="969.20" stroke="#000" stroke-width="3.7" />
<line x1="2050.20" y1="969.20" x2="2039.40" y2="969.20" stroke="#000" stroke-width="3.7" />
<line x1="1181.80" y1="962.05" x2="1192.60" y2="962.05" stroke="#000" stroke-width="3.7" />
<line x1="2050.20" y1="962.05" x2="2039.40" y2="962.05" stroke="#000" stroke-width="3.7" />
<line x1="1181.80" y1="955.74" x2="1192.60" y2="955.74" stroke="#000" stroke-width="3.7" />
<line x1="2050.20" y1="955.74" x2="2039.40" y2="955.74" stroke="#000" stroke-width="3.7" />
<line x1="1181.80" y1="950.10" x2="1200.60" y2="950.10" stroke="#000" stroke-width="3.7" />
<line x1="2050.20" y1="950.10" x2="2031.40" y2="950.10" stroke="#000" stroke-width="3.7" />
<text transform="translate(1168.30 966.50) scale(1 1.08)" font-size="35.6" text-anchor="end" >10<tspan font-size="25.6" dy="-20.7">1</tspan></text>
<line x1="1181.80" y1="912.98" x2="1192.60" y2="912.98" stroke="#000" stroke-width="3.7" />
<line x1="2050.20" y1="912.98" x2="2039.40" y2="912.98" stroke="#000" stroke-width="3.7" />
<line x1="1181.80" y1="891.27" x2="1192.60" y2="891.27" stroke="#000" stroke-width="3.7" />
<line x1="2050.20" y1="891.27" x2="2039.40" y2="891.27" stroke="#000" stroke-width="3.7" />
<line x1="1181.80" y1="875.87" x2="1192.60" y2="875.87" stroke="#000" stroke-width="3.7" />
<line x1="2050.20" y1="875.87" x2="2039.40" y2="875.87" stroke="#000" stroke-width="3.7" />
<line x1="1181.80" y1="863.92" x2="1192.60" y2="863.92" stroke="#000" stroke-width="3.7" />
<line x1="2050.20" y1="863.92" x2="2039.40" y2="863.92" stroke="#000" stroke-width="3.7" />
<line x1="1181.80" y1="854.15" x2="1192.60" y2="854.15" stroke="#000" stroke-width="3.7" />
<line x1="2050.20" y1="854.15" x2="2039.40" y2="854.15" stroke="#000" stroke-width="3.7" />
<line x1="1181.80" y1="845.90" x2="1192.60" y2="845.90" stroke="#000" stroke-width="3.7" />
<line x1="2050.20" y1="845.90" x2="2039.40" y2="845.90" stroke="#000" stroke-width="3.7" />
<line x1="1181.80" y1="838.75" x2="1192.60" y2="838.75" stroke="#000" stroke-width="3.7" />
<line x1="2050.20" y1="838.75" x2="2039.40" y2="838.75" stroke="#000" stroke-width="3.7" />
<line x1="1181.80" y1="832.44" x2="1192.60" y2="832.44" stroke="#000" stroke-width="3.7" />
<line x1="2050.20" y1="832.44" x2="2039.40" y2="832.44" stroke="#000" stroke-width="3.7" />
<line x1="1181.80" y1="826.80" x2="1200.60" y2="826.80" stroke="#000" stroke-width="3.7" />
<line x1="2050.20" y1="826.80" x2="2031.40" y2="826.80" stroke="#000" stroke-width="3.7" />
<text transform="translate(1168.30 843.20) scale(1 1.08)" font-size="35.6" text-anchor="end" >10<tspan font-size="25.6" dy="-20.7">2</tspan></text>
<line x1="1181.80" y1="1630.80" x2="1200.60" y2="1630.80" stroke="#000" stroke-width="3.7" />
<line x1="2050.20" y1="1630.80" x2="2031.40" y2="1630.80" stroke="#000" stroke-width="3.7" />
<line x1="1181.80" y1="1614.76" x2="1192.60" y2="1614.76" stroke="#000" stroke-width="3.7" />
<line x1="2050.20" y1="1614.76" x2="2039.40" y2="1614.76" stroke="#000" stroke-width="3.7" />
<line x1="1181.80" y1="1598.72" x2="1192.60" y2="1598.72" stroke="#000" stroke-width="3.7" />
<line x1="2050.20" y1="1598.72" x2="2039.40" y2="1598.72" stroke="#000" stroke-width="3.7" />
<line x1="1181.80" y1="1582.68" x2="1192.60" y2="1582.68" stroke="#000" stroke-width="3.7" />
<line x1="2050.20" y1="1582.68" x2="2039.40" y2="1582.68" stroke="#000" stroke-width="3.7" />
<line x1="1181.80" y1="1566.64" x2="1192.60" y2="1566.64" stroke="#000" stroke-width="3.7" />
<line x1="2050.20" y1="1566.64" x2="2039.40" y2="1566.64" stroke="#000" stroke-width="3.7" />
<line x1="1181.80" y1="1550.60" x2="1200.60" y2="1550.60" stroke="#000" stroke-width="3.7" />
<line x1="2050.20" y1="1550.60" x2="2031.40" y2="1550.60" stroke="#000" stroke-width="3.7" />
<line x1="1181.80" y1="1534.56" x2="1192.60" y2="1534.56" stroke="#000" stroke-width="3.7" />
<line x1="2050.20" y1="1534.56" x2="2039.40" y2="1534.56" stroke="#000" stroke-width="3.7" />
<line x1="1181.80" y1="1518.52" x2="1192.60" y2="1518.52" stroke="#000" stroke-width="3.7" />
<line x1="2050.20" y1="1518.52" x2="2039.40" y2="1518.52" stroke="#000" stroke-width="3.7" />
<line x1="1181.80" y1="1502.48" x2="1192.60" y2="1502.48" stroke="#000" stroke-width="3.7" />
<line x1="2050.20" y1="1502.48" x2="2039.40" y2="1502.48" stroke="#000" stroke-width="3.7" />
<line x1="1181.80" y1="1486.44" x2="1192.60" y2="1486.44" stroke="#000" stroke-width="3.7" />
<line x1="2050.20" y1="1486.44" x2="2039.40" y2="1486.44" stroke="#000" stroke-width="3.7" />
<line x1="1181.80" y1="1470.40" x2="1200.60" y2="1470.40" stroke="#000" stroke-width="3.7" />
<line x1="2050.20" y1="1470.40" x2="2031.40" y2="1470.40" stroke="#000" stroke-width="3.7" />
<text transform="translate(1170.80 1483.10) scale(1 1.035)" font-size="37.2" text-anchor="end" >2.5</text>
<text transform="translate(1170.80 1563.30) scale(1 1.035)" font-size="37.2" text-anchor="end" >0.0</text>
<text transform="translate(1170.80 1643.50) scale(1 1.035)" font-size="37.2" text-anchor="end" >−2.5</text>
<line x1="1180.10" y1="826.90" x2="2051.40" y2="826.90" stroke="#000" stroke-width="2.3" />
<line x1="1180.10" y1="1470.40" x2="2051.40" y2="1470.40" stroke="#000" stroke-width="2.3" />
<line x1="1181.50" y1="826.90" x2="1181.50" y2="1470.40" stroke="#000" stroke-width="2.8" />
<line x1="2050.20" y1="826.90" x2="2050.20" y2="1470.40" stroke="#000" stroke-width="2.6" />
<line x1="1180.10" y1="1470.40" x2="2051.40" y2="1470.40" stroke="#000" stroke-width="2.3" />
<line x1="1180.10" y1="1630.80" x2="2051.40" y2="1630.80" stroke="#000" stroke-width="2.3" />
<line x1="1181.50" y1="1470.40" x2="1181.50" y2="1630.80" stroke="#000" stroke-width="2.8" />
<line x1="2050.20" y1="1470.40" x2="2050.20" y2="1630.80" stroke="#000" stroke-width="2.6" />
<text transform="translate(1615.70 1716.20) scale(1 1.015)" font-size="31.8" text-anchor="middle" >Energy (keV)</text>
<text transform="translate(1081.00 1148.65) rotate(-90) scale(1 1.0)" font-size="31.8" text-anchor="middle"><tspan font-style="italic">C</tspan><tspan font-size="22.26" dy="5.09"><tspan font-style="italic">E</tspan></tspan><tspan font-size="22.26" dy="-5.09">&#8203;</tspan> (Counts s<tspan font-size="22.26" dy="-12.08">−1</tspan><tspan font-size="22.26" dy="12.08">&#8203;</tspan> keV<tspan font-size="22.26" dy="-12.08">−1</tspan><tspan font-size="22.26" dy="12.08">&#8203;</tspan>)</text>
<text transform="translate(1089.00 1550.60) rotate(-90) scale(1 1.015)" font-size="31.8" text-anchor="middle">Residuals</text>
<path d="M1834.8 867.5h31.4M1850.5 851.8v31.4" stroke="#023eff" stroke-width="2.0" fill="none"/>
<text transform="translate(1908.00 878.10) scale(1 1.015)" font-size="31.5" text-anchor="start" >GBM-n6</text>
<path d="M1834.8 912.0h31.4M1850.5 896.3v31.4" stroke="#ff7c00" stroke-width="2.0" fill="none"/>
<text transform="translate(1908.00 922.60) scale(1 1.015)" font-size="31.5" text-anchor="start" >GBM-n7</text>
<path d="M1834.8 956.5h31.4M1850.5 940.8v31.4" stroke="#1ac938" stroke-width="2.0" fill="none"/>
<text transform="translate(1908.00 967.10) scale(1 1.015)" font-size="31.5" text-anchor="start" >GBM-n8</text>
<path d="M1834.8 1001.0h31.4M1850.5 985.3v31.4" stroke="#e8000b" stroke-width="2.0" fill="none"/>
<text transform="translate(1908.00 1011.60) scale(1 1.015)" font-size="31.5" text-anchor="start" >GBM-b1</text>
</svg>
</body></html>
